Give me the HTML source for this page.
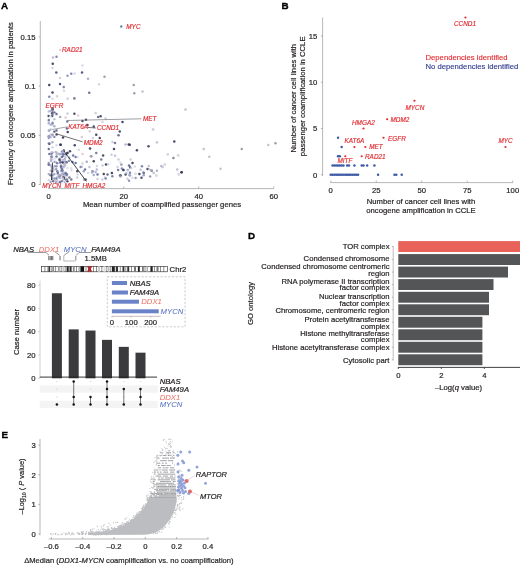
<!DOCTYPE html>
<html><head><meta charset="utf-8"><title>Figure</title>
<style>html,body{margin:0;padding:0;background:#fff}svg{display:block;filter:blur(0.35px);font-family:"Liberation Sans",Arial,sans-serif}</style></head>
<body>
<svg width="520" height="565" viewBox="0 0 520 565">
<rect width="520" height="565" fill="#fff"/>
<text x="1.00" y="9.33" font-size="9.8" font-weight="bold" fill="#000" stroke="#000" stroke-width="0.35">A</text>
<line x1="40.30" y1="21.00" x2="40.30" y2="185.00" stroke="#9a9a9a" stroke-width="0.7"/>
<line x1="38.60" y1="184.50" x2="40.30" y2="184.50" stroke="#9a9a9a" stroke-width="0.7"/>
<text x="35.50" y="187.27" font-size="7.7" text-anchor="end" fill="#231f20" stroke="#231f20" stroke-width="0.2">0</text>
<line x1="38.60" y1="135.30" x2="40.30" y2="135.30" stroke="#9a9a9a" stroke-width="0.7"/>
<text x="35.50" y="138.07" font-size="7.7" text-anchor="end" fill="#231f20" stroke="#231f20" stroke-width="0.2">0.05</text>
<line x1="38.60" y1="86.10" x2="40.30" y2="86.10" stroke="#9a9a9a" stroke-width="0.7"/>
<text x="35.50" y="88.87" font-size="7.7" text-anchor="end" fill="#231f20" stroke="#231f20" stroke-width="0.2">0.1</text>
<line x1="38.60" y1="36.90" x2="40.30" y2="36.90" stroke="#9a9a9a" stroke-width="0.7"/>
<text x="35.50" y="39.67" font-size="7.7" text-anchor="end" fill="#231f20" stroke="#231f20" stroke-width="0.2">0.15</text>
<line x1="48.50" y1="188.60" x2="273.50" y2="188.60" stroke="#9a9a9a" stroke-width="0.7"/>
<line x1="48.75" y1="186.40" x2="48.75" y2="188.60" stroke="#9a9a9a" stroke-width="0.7"/>
<text x="48.75" y="198.77" font-size="7.7" text-anchor="middle" fill="#231f20" stroke="#231f20" stroke-width="0.2">0</text>
<line x1="123.75" y1="186.40" x2="123.75" y2="188.60" stroke="#9a9a9a" stroke-width="0.7"/>
<text x="123.75" y="198.77" font-size="7.7" text-anchor="middle" fill="#231f20" stroke="#231f20" stroke-width="0.2">20</text>
<line x1="198.75" y1="186.40" x2="198.75" y2="188.60" stroke="#9a9a9a" stroke-width="0.7"/>
<text x="198.75" y="198.77" font-size="7.7" text-anchor="middle" fill="#231f20" stroke="#231f20" stroke-width="0.2">40</text>
<line x1="273.75" y1="186.40" x2="273.75" y2="188.60" stroke="#9a9a9a" stroke-width="0.7"/>
<text x="273.75" y="198.77" font-size="7.7" text-anchor="middle" fill="#231f20" stroke="#231f20" stroke-width="0.2">60</text>
<text x="162.00" y="207.27" font-size="7.7" text-anchor="middle" fill="#231f20" stroke="#231f20" stroke-width="0.2">Mean number of coamplified passenger genes</text>
<text transform="translate(10.60,103.50) rotate(-90)" x="0" y="2.77" font-size="7.7" text-anchor="middle" fill="#231f20" stroke="#231f20" stroke-width="0.2">Frequency of oncogene amplification in patients</text>
<circle cx="53.00" cy="57.50" r="1.25" fill="#c7aec1" fill-opacity="0.9"/>
<circle cx="56.50" cy="56.75" r="1.25" fill="#727aa7" fill-opacity="0.9"/>
<circle cx="52.75" cy="63.75" r="1.25" fill="#30325a" fill-opacity="0.9"/>
<circle cx="52.50" cy="68.00" r="1.25" fill="#d2d4e5" fill-opacity="0.9"/>
<circle cx="56.25" cy="72.50" r="1.25" fill="#444973" fill-opacity="0.9"/>
<circle cx="82.50" cy="65.50" r="1.25" fill="#d2d4e5" fill-opacity="0.9"/>
<circle cx="82.00" cy="72.50" r="1.25" fill="#444973" fill-opacity="0.9"/>
<circle cx="71.25" cy="73.75" r="1.25" fill="#727aa7" fill-opacity="0.9"/>
<circle cx="74.50" cy="73.50" r="1.25" fill="#d2d4e5" fill-opacity="0.9"/>
<circle cx="67.50" cy="75.75" r="1.25" fill="#8990b9" fill-opacity="0.9"/>
<circle cx="60.00" cy="78.00" r="1.25" fill="#dac9d3" fill-opacity="0.9"/>
<circle cx="88.00" cy="78.75" r="1.25" fill="#a2a7ca" fill-opacity="0.9"/>
<circle cx="104.50" cy="76.75" r="1.25" fill="#9296a6" fill-opacity="0.9"/>
<circle cx="49.25" cy="85.00" r="1.25" fill="#30325a" fill-opacity="0.9"/>
<circle cx="60.00" cy="84.00" r="1.25" fill="#444973" fill-opacity="0.9"/>
<circle cx="63.75" cy="87.00" r="1.25" fill="#727aa7" fill-opacity="0.9"/>
<circle cx="99.00" cy="84.25" r="1.25" fill="#d2d4e5" fill-opacity="0.9"/>
<circle cx="133.75" cy="85.00" r="1.25" fill="#9296a6" fill-opacity="0.9"/>
<circle cx="52.50" cy="92.50" r="1.25" fill="#30325a" fill-opacity="0.9"/>
<circle cx="64.00" cy="90.75" r="1.25" fill="#d2d4e5" fill-opacity="0.9"/>
<circle cx="89.25" cy="92.75" r="1.25" fill="#5a618d" fill-opacity="0.9"/>
<circle cx="134.25" cy="93.25" r="1.25" fill="#9296a6" fill-opacity="0.9"/>
<circle cx="142.50" cy="91.50" r="1.25" fill="#babcc7" fill-opacity="0.9"/>
<circle cx="49.25" cy="96.75" r="1.25" fill="#727aa7" fill-opacity="0.9"/>
<circle cx="52.50" cy="98.75" r="1.25" fill="#d2d4e5" fill-opacity="0.9"/>
<circle cx="57.00" cy="96.25" r="1.25" fill="#dac9d3" fill-opacity="0.9"/>
<circle cx="67.50" cy="98.75" r="1.25" fill="#d2d4e5" fill-opacity="0.9"/>
<circle cx="74.25" cy="98.25" r="1.25" fill="#727aa7" fill-opacity="0.9"/>
<circle cx="185.50" cy="109.50" r="1.25" fill="#babcc7" fill-opacity="0.9"/>
<circle cx="153.00" cy="129.25" r="1.25" fill="#d2d4e5" fill-opacity="0.9"/>
<circle cx="174.25" cy="141.50" r="1.25" fill="#30325a" fill-opacity="0.9"/>
<circle cx="157.00" cy="142.50" r="1.25" fill="#d2d4e5" fill-opacity="0.9"/>
<circle cx="203.75" cy="149.00" r="1.25" fill="#babcc7" fill-opacity="0.9"/>
<circle cx="241.75" cy="149.00" r="1.25" fill="#9296a6" fill-opacity="0.9"/>
<circle cx="268.25" cy="145.00" r="1.25" fill="#babcc7" fill-opacity="0.9"/>
<circle cx="275.50" cy="143.25" r="1.25" fill="#9296a6" fill-opacity="0.9"/>
<circle cx="209.25" cy="156.75" r="1.25" fill="#babcc7" fill-opacity="0.9"/>
<circle cx="167.75" cy="154.25" r="1.25" fill="#d2d4e5" fill-opacity="0.9"/>
<circle cx="173.25" cy="158.00" r="1.25" fill="#babcc7" fill-opacity="0.9"/>
<circle cx="178.25" cy="155.50" r="1.25" fill="#d2d4e5" fill-opacity="0.9"/>
<circle cx="164.50" cy="164.50" r="1.25" fill="#d2d4e5" fill-opacity="0.9"/>
<circle cx="162.50" cy="167.00" r="1.25" fill="#d2d4e5" fill-opacity="0.9"/>
<circle cx="220.50" cy="168.75" r="1.25" fill="#babcc7" fill-opacity="0.9"/>
<circle cx="177.00" cy="169.50" r="1.25" fill="#d2d4e5" fill-opacity="0.9"/>
<circle cx="181.75" cy="172.25" r="1.25" fill="#30325a" fill-opacity="0.9"/>
<circle cx="178.75" cy="174.25" r="1.25" fill="#d2d4e5" fill-opacity="0.9"/>
<circle cx="151.75" cy="170.75" r="1.25" fill="#727aa7" fill-opacity="0.9"/>
<circle cx="153.75" cy="173.00" r="1.25" fill="#bbbed8" fill-opacity="0.9"/>
<circle cx="156.25" cy="175.50" r="1.25" fill="#d2d4e5" fill-opacity="0.9"/>
<circle cx="67.75" cy="98.75" r="1.25" fill="#d6d7e1" fill-opacity="0.9"/>
<circle cx="74.40" cy="98.50" r="1.25" fill="#8e9099" fill-opacity="0.9"/>
<circle cx="74.40" cy="113.75" r="1.25" fill="#3c3e5a" fill-opacity="0.9"/>
<circle cx="67.50" cy="113.50" r="1.25" fill="#c7c9d6" fill-opacity="0.9"/>
<circle cx="65.60" cy="117.50" r="1.25" fill="#dec7cf" fill-opacity="0.9"/>
<circle cx="78.10" cy="115.60" r="1.25" fill="#dec7cf" fill-opacity="0.9"/>
<circle cx="95.60" cy="112.90" r="1.25" fill="#c7c9d6" fill-opacity="0.9"/>
<circle cx="98.10" cy="116.90" r="1.25" fill="#5b6288" fill-opacity="0.9"/>
<circle cx="100.60" cy="116.25" r="1.25" fill="#3c3e5a" fill-opacity="0.9"/>
<circle cx="105.60" cy="118.50" r="1.25" fill="#c7c9d6" fill-opacity="0.9"/>
<circle cx="86.00" cy="119.75" r="1.25" fill="#313356" fill-opacity="0.9"/>
<circle cx="82.50" cy="121.00" r="1.25" fill="#343649" fill-opacity="0.9"/>
<circle cx="67.25" cy="121.50" r="1.25" fill="#616ca0" fill-opacity="0.9"/>
<circle cx="122.50" cy="121.90" r="1.25" fill="#313356" fill-opacity="0.9"/>
<circle cx="102.50" cy="121.90" r="1.25" fill="#ced0de" fill-opacity="0.9"/>
<circle cx="87.50" cy="125.00" r="1.25" fill="#3c3e5a" fill-opacity="0.9"/>
<circle cx="93.75" cy="126.50" r="1.25" fill="#3c3e5a" fill-opacity="0.9"/>
<circle cx="66.90" cy="128.50" r="1.25" fill="#5b6288" fill-opacity="0.9"/>
<circle cx="67.75" cy="132.10" r="1.25" fill="#313356" fill-opacity="0.9"/>
<circle cx="89.75" cy="131.25" r="1.25" fill="#dec7cf" fill-opacity="0.9"/>
<circle cx="96.25" cy="134.75" r="1.25" fill="#343649" fill-opacity="0.9"/>
<circle cx="119.75" cy="131.50" r="1.25" fill="#3c3e5a" fill-opacity="0.9"/>
<circle cx="118.50" cy="135.25" r="1.25" fill="#5b6288" fill-opacity="0.9"/>
<circle cx="99.75" cy="138.10" r="1.25" fill="#343649" fill-opacity="0.9"/>
<circle cx="93.00" cy="138.00" r="1.25" fill="#ced0de" fill-opacity="0.9"/>
<circle cx="63.00" cy="137.50" r="1.25" fill="#313356" fill-opacity="0.9"/>
<circle cx="81.90" cy="136.90" r="1.25" fill="#c7c9d6" fill-opacity="0.9"/>
<circle cx="115.00" cy="143.00" r="1.25" fill="#6d728d" fill-opacity="0.9"/>
<circle cx="112.50" cy="141.90" r="1.25" fill="#c7c9d6" fill-opacity="0.9"/>
<circle cx="153.10" cy="129.40" r="1.25" fill="#ced0de" fill-opacity="0.9"/>
<circle cx="156.90" cy="142.25" r="1.25" fill="#c7c9d6" fill-opacity="0.9"/>
<circle cx="128.75" cy="144.40" r="1.25" fill="#343649" fill-opacity="0.9"/>
<circle cx="125.60" cy="144.40" r="1.25" fill="#aab0ce" fill-opacity="0.9"/>
<circle cx="60.60" cy="144.75" r="1.25" fill="#313356" fill-opacity="0.9"/>
<circle cx="74.75" cy="145.25" r="1.25" fill="#313356" fill-opacity="0.9"/>
<circle cx="90.00" cy="148.50" r="1.25" fill="#313356" fill-opacity="0.9"/>
<circle cx="114.00" cy="149.00" r="1.25" fill="#343649" fill-opacity="0.9"/>
<circle cx="63.75" cy="150.60" r="1.25" fill="#313356" fill-opacity="0.9"/>
<circle cx="70.00" cy="151.25" r="1.25" fill="#3c3e5a" fill-opacity="0.9"/>
<circle cx="67.75" cy="153.10" r="1.25" fill="#646a88" fill-opacity="0.9"/>
<circle cx="78.75" cy="149.75" r="1.25" fill="#ced0de" fill-opacity="0.9"/>
<circle cx="82.50" cy="154.00" r="1.25" fill="#dec7cf" fill-opacity="0.9"/>
<circle cx="96.25" cy="153.10" r="1.25" fill="#6d728d" fill-opacity="0.9"/>
<circle cx="103.10" cy="155.60" r="1.25" fill="#3c3e5a" fill-opacity="0.9"/>
<circle cx="111.50" cy="154.75" r="1.25" fill="#c7c9d6" fill-opacity="0.9"/>
<circle cx="118.50" cy="159.40" r="1.25" fill="#c7c9d6" fill-opacity="0.9"/>
<circle cx="73.10" cy="155.60" r="1.25" fill="#616ca0" fill-opacity="0.9"/>
<circle cx="75.60" cy="156.90" r="1.25" fill="#616ca0" fill-opacity="0.9"/>
<circle cx="91.25" cy="156.25" r="1.25" fill="#6d728d" fill-opacity="0.9"/>
<circle cx="101.25" cy="159.40" r="1.25" fill="#6d728d" fill-opacity="0.9"/>
<circle cx="93.75" cy="161.25" r="1.25" fill="#343649" fill-opacity="0.9"/>
<circle cx="61.90" cy="156.90" r="1.25" fill="#616ca0" fill-opacity="0.9"/>
<circle cx="65.00" cy="158.75" r="1.25" fill="#aab0ce" fill-opacity="0.9"/>
<circle cx="72.50" cy="161.90" r="1.25" fill="#616ca0" fill-opacity="0.9"/>
<circle cx="75.60" cy="163.10" r="1.25" fill="#5c6697" fill-opacity="0.9"/>
<circle cx="63.10" cy="163.10" r="1.25" fill="#343649" fill-opacity="0.9"/>
<circle cx="82.50" cy="163.50" r="1.25" fill="#ced0de" fill-opacity="0.9"/>
<circle cx="106.00" cy="164.40" r="1.25" fill="#343649" fill-opacity="0.9"/>
<circle cx="96.90" cy="166.00" r="1.25" fill="#ced0de" fill-opacity="0.9"/>
<circle cx="102.50" cy="165.60" r="1.25" fill="#c7c9d6" fill-opacity="0.9"/>
<circle cx="117.50" cy="166.90" r="1.25" fill="#ced0de" fill-opacity="0.9"/>
<circle cx="80.60" cy="166.90" r="1.25" fill="#707aa9" fill-opacity="0.9"/>
<circle cx="85.00" cy="169.40" r="1.25" fill="#5c6697" fill-opacity="0.9"/>
<circle cx="83.75" cy="171.25" r="1.25" fill="#919ac0" fill-opacity="0.9"/>
<circle cx="77.25" cy="171.25" r="1.25" fill="#3c3e5a" fill-opacity="0.9"/>
<circle cx="67.50" cy="168.10" r="1.25" fill="#d6d7e1" fill-opacity="0.9"/>
<circle cx="62.50" cy="170.60" r="1.25" fill="#646a88" fill-opacity="0.9"/>
<circle cx="65.60" cy="173.10" r="1.25" fill="#5c6697" fill-opacity="0.9"/>
<circle cx="61.90" cy="173.75" r="1.25" fill="#aab0ce" fill-opacity="0.9"/>
<circle cx="92.50" cy="171.25" r="1.25" fill="#707aa9" fill-opacity="0.9"/>
<circle cx="95.60" cy="171.90" r="1.25" fill="#aab0ce" fill-opacity="0.9"/>
<circle cx="97.50" cy="174.40" r="1.25" fill="#616ca0" fill-opacity="0.9"/>
<circle cx="93.75" cy="175.00" r="1.25" fill="#9ba3c8" fill-opacity="0.9"/>
<circle cx="103.75" cy="174.00" r="1.25" fill="#343649" fill-opacity="0.9"/>
<circle cx="107.50" cy="174.40" r="1.25" fill="#5b6288" fill-opacity="0.9"/>
<circle cx="111.90" cy="173.10" r="1.25" fill="#313356" fill-opacity="0.9"/>
<circle cx="118.10" cy="170.00" r="1.25" fill="#6d728d" fill-opacity="0.9"/>
<circle cx="123.10" cy="170.00" r="1.25" fill="#707aa9" fill-opacity="0.9"/>
<circle cx="120.00" cy="175.40" r="1.25" fill="#6d728d" fill-opacity="0.9"/>
<circle cx="88.10" cy="173.10" r="1.25" fill="#d6d7e1" fill-opacity="0.9"/>
<circle cx="77.50" cy="174.40" r="1.25" fill="#d6d7e1" fill-opacity="0.9"/>
<circle cx="69.40" cy="177.50" r="1.25" fill="#6d728d" fill-opacity="0.9"/>
<circle cx="71.25" cy="179.40" r="1.25" fill="#646a88" fill-opacity="0.9"/>
<circle cx="85.60" cy="179.40" r="1.25" fill="#3c3e5a" fill-opacity="0.9"/>
<circle cx="97.50" cy="179.00" r="1.25" fill="#c7c9d6" fill-opacity="0.9"/>
<circle cx="105.00" cy="177.50" r="1.25" fill="#ced0de" fill-opacity="0.9"/>
<circle cx="63.50" cy="176.90" r="1.25" fill="#313356" fill-opacity="0.9"/>
<circle cx="61.00" cy="166.90" r="1.25" fill="#5c6697" fill-opacity="0.9"/>
<circle cx="65.00" cy="165.60" r="1.25" fill="#aab0ce" fill-opacity="0.9"/>
<circle cx="129.75" cy="144.75" r="1.25" fill="#313356" fill-opacity="0.9"/>
<circle cx="148.50" cy="146.25" r="1.25" fill="#3c3e5a" fill-opacity="0.9"/>
<circle cx="136.90" cy="150.25" r="1.25" fill="#313356" fill-opacity="0.9"/>
<circle cx="167.75" cy="154.40" r="1.25" fill="#d6d7e1" fill-opacity="0.9"/>
<circle cx="178.10" cy="155.25" r="1.25" fill="#d6d7e1" fill-opacity="0.9"/>
<circle cx="173.50" cy="158.10" r="1.25" fill="#8e9099" fill-opacity="0.9"/>
<circle cx="130.60" cy="159.40" r="1.25" fill="#c7c9d6" fill-opacity="0.9"/>
<circle cx="132.50" cy="163.10" r="1.25" fill="#313356" fill-opacity="0.9"/>
<circle cx="129.00" cy="165.60" r="1.25" fill="#5c6697" fill-opacity="0.9"/>
<circle cx="130.25" cy="167.50" r="1.25" fill="#343649" fill-opacity="0.9"/>
<circle cx="134.75" cy="166.50" r="1.25" fill="#d6d7e1" fill-opacity="0.9"/>
<circle cx="165.00" cy="164.40" r="1.25" fill="#d6d7e1" fill-opacity="0.9"/>
<circle cx="162.50" cy="166.90" r="1.25" fill="#c7c9d6" fill-opacity="0.9"/>
<circle cx="147.50" cy="169.00" r="1.25" fill="#3c3e5a" fill-opacity="0.9"/>
<circle cx="151.50" cy="170.60" r="1.25" fill="#9b9ca4" fill-opacity="0.9"/>
<circle cx="153.75" cy="173.10" r="1.25" fill="#c7c9d6" fill-opacity="0.9"/>
<circle cx="156.50" cy="175.60" r="1.25" fill="#d6d7e1" fill-opacity="0.9"/>
<circle cx="123.50" cy="170.00" r="1.25" fill="#313356" fill-opacity="0.9"/>
<circle cx="127.75" cy="170.00" r="1.25" fill="#9ba3c8" fill-opacity="0.9"/>
<circle cx="130.00" cy="172.75" r="1.25" fill="#707aa9" fill-opacity="0.9"/>
<circle cx="125.60" cy="174.40" r="1.25" fill="#3c3e5a" fill-opacity="0.9"/>
<circle cx="120.60" cy="175.60" r="1.25" fill="#343649" fill-opacity="0.9"/>
<circle cx="130.00" cy="175.60" r="1.25" fill="#919ac0" fill-opacity="0.9"/>
<circle cx="135.60" cy="173.75" r="1.25" fill="#ced0de" fill-opacity="0.9"/>
<circle cx="139.40" cy="174.00" r="1.25" fill="#313356" fill-opacity="0.9"/>
<circle cx="143.75" cy="173.10" r="1.25" fill="#5c6697" fill-opacity="0.9"/>
<circle cx="143.75" cy="175.25" r="1.25" fill="#919ac0" fill-opacity="0.9"/>
<circle cx="141.50" cy="177.75" r="1.25" fill="#3c3e5a" fill-opacity="0.9"/>
<circle cx="135.60" cy="178.10" r="1.25" fill="#919ac0" fill-opacity="0.9"/>
<circle cx="127.50" cy="178.75" r="1.25" fill="#c7c9d6" fill-opacity="0.9"/>
<circle cx="177.25" cy="169.40" r="1.25" fill="#c7c9d6" fill-opacity="0.9"/>
<circle cx="181.50" cy="172.25" r="1.25" fill="#3c3e5a" fill-opacity="0.9"/>
<circle cx="178.75" cy="174.40" r="1.25" fill="#d6d7e1" fill-opacity="0.9"/>
<circle cx="52.60" cy="109.30" r="1.25" fill="#343649" fill-opacity="0.9"/>
<circle cx="52.10" cy="113.20" r="1.25" fill="#3c3e5a" fill-opacity="0.9"/>
<circle cx="52.10" cy="116.00" r="1.25" fill="#343649" fill-opacity="0.9"/>
<circle cx="48.60" cy="116.00" r="1.25" fill="#3c3e5a" fill-opacity="0.9"/>
<circle cx="56.50" cy="113.90" r="1.25" fill="#5b6288" fill-opacity="0.9"/>
<circle cx="60.20" cy="116.90" r="1.25" fill="#9b9ca4" fill-opacity="0.9"/>
<circle cx="52.60" cy="122.00" r="1.25" fill="#d6d7e1" fill-opacity="0.9"/>
<circle cx="52.60" cy="125.00" r="1.25" fill="#ced0de" fill-opacity="0.9"/>
<circle cx="49.30" cy="130.40" r="1.25" fill="#919ac0" fill-opacity="0.9"/>
<circle cx="56.50" cy="130.40" r="1.25" fill="#5b6288" fill-opacity="0.9"/>
<circle cx="56.50" cy="134.60" r="1.25" fill="#3c3e5a" fill-opacity="0.9"/>
<circle cx="49.30" cy="143.80" r="1.25" fill="#313356" fill-opacity="0.9"/>
<circle cx="52.10" cy="142.60" r="1.25" fill="#ced0de" fill-opacity="0.9"/>
<circle cx="56.50" cy="145.20" r="1.25" fill="#d6d7e1" fill-opacity="0.9"/>
<circle cx="60.50" cy="144.70" r="1.25" fill="#313356" fill-opacity="0.9"/>
<circle cx="49.30" cy="154.00" r="1.25" fill="#6d728d" fill-opacity="0.9"/>
<circle cx="52.10" cy="152.20" r="1.25" fill="#ced0de" fill-opacity="0.9"/>
<circle cx="56.50" cy="152.20" r="1.25" fill="#d6d7e1" fill-opacity="0.9"/>
<circle cx="56.50" cy="156.40" r="1.25" fill="#646a88" fill-opacity="0.9"/>
<circle cx="52.50" cy="175.60" r="1.2" fill="#8990b9" fill-opacity="0.9"/>
<circle cx="50.62" cy="116.35" r="1.2" fill="#d2d4e5" fill-opacity="0.9"/>
<circle cx="50.62" cy="129.42" r="1.2" fill="#babcc7" fill-opacity="0.9"/>
<circle cx="52.50" cy="110.87" r="1.2" fill="#5a618d" fill-opacity="0.7"/>
<circle cx="48.75" cy="164.43" r="1.2" fill="#727aa7" fill-opacity="0.8"/>
<circle cx="52.50" cy="168.09" r="1.2" fill="#727aa7" fill-opacity="0.7"/>
<circle cx="52.50" cy="142.10" r="1.2" fill="#a2a7ca" fill-opacity="0.8"/>
<circle cx="48.75" cy="130.59" r="1.2" fill="#a2a7ca" fill-opacity="0.9"/>
<circle cx="54.38" cy="131.64" r="1.2" fill="#444973" fill-opacity="0.9"/>
<circle cx="52.50" cy="152.59" r="1.2" fill="#8990b9" fill-opacity="0.7"/>
<circle cx="52.50" cy="134.74" r="1.2" fill="#444973" fill-opacity="0.7"/>
<circle cx="48.75" cy="149.03" r="1.2" fill="#5a618d" fill-opacity="0.9"/>
<circle cx="48.75" cy="173.99" r="1.2" fill="#a2a7ca" fill-opacity="0.9"/>
<circle cx="48.75" cy="111.52" r="1.2" fill="#a2a7ca" fill-opacity="0.7"/>
<circle cx="48.75" cy="136.23" r="1.2" fill="#5a618d" fill-opacity="0.8"/>
<circle cx="50.62" cy="137.10" r="1.2" fill="#8990b9" fill-opacity="0.7"/>
<circle cx="52.50" cy="108.26" r="1.2" fill="#8990b9" fill-opacity="0.8"/>
<circle cx="50.62" cy="175.21" r="1.2" fill="#444973" fill-opacity="0.8"/>
<circle cx="54.38" cy="162.01" r="1.2" fill="#d2d4e5" fill-opacity="0.7"/>
<circle cx="52.50" cy="179.84" r="1.2" fill="#babcc7" fill-opacity="0.9"/>
<circle cx="50.62" cy="170.73" r="1.2" fill="#a2a7ca" fill-opacity="0.7"/>
<circle cx="52.50" cy="159.55" r="1.2" fill="#bbbed8" fill-opacity="0.7"/>
<circle cx="54.38" cy="119.15" r="1.2" fill="#a2a7ca" fill-opacity="0.7"/>
<circle cx="50.62" cy="124.58" r="1.2" fill="#a2a7ca" fill-opacity="0.9"/>
<circle cx="50.62" cy="134.58" r="1.2" fill="#a2a7ca" fill-opacity="0.7"/>
<circle cx="48.75" cy="121.16" r="1.2" fill="#bbbed8" fill-opacity="0.7"/>
<circle cx="48.75" cy="143.35" r="1.2" fill="#727aa7" fill-opacity="0.7"/>
<circle cx="48.75" cy="123.24" r="1.2" fill="#8990b9" fill-opacity="0.7"/>
<circle cx="54.38" cy="136.89" r="1.2" fill="#727aa7" fill-opacity="0.9"/>
<circle cx="50.62" cy="111.07" r="1.2" fill="#8990b9" fill-opacity="0.7"/>
<circle cx="48.75" cy="164.81" r="1.2" fill="#5a618d" fill-opacity="0.7"/>
<circle cx="52.50" cy="135.49" r="1.2" fill="#c7aec1" fill-opacity="0.7"/>
<circle cx="52.50" cy="114.45" r="1.2" fill="#727aa7" fill-opacity="0.9"/>
<circle cx="48.75" cy="119.95" r="1.2" fill="#5a618d" fill-opacity="0.8"/>
<circle cx="54.38" cy="126.19" r="1.2" fill="#8990b9" fill-opacity="0.7"/>
<circle cx="52.50" cy="123.31" r="1.2" fill="#727aa7" fill-opacity="0.9"/>
<circle cx="52.50" cy="147.37" r="1.2" fill="#bbbed8" fill-opacity="0.7"/>
<circle cx="54.38" cy="169.82" r="1.2" fill="#babcc7" fill-opacity="0.7"/>
<circle cx="48.75" cy="137.95" r="1.2" fill="#8990b9" fill-opacity="0.9"/>
<circle cx="48.75" cy="136.41" r="1.2" fill="#a2a7ca" fill-opacity="0.8"/>
<circle cx="54.38" cy="112.36" r="1.2" fill="#5a618d" fill-opacity="0.9"/>
<circle cx="48.75" cy="179.97" r="1.2" fill="#d2d4e5" fill-opacity="0.9"/>
<circle cx="54.38" cy="173.96" r="1.2" fill="#d2d4e5" fill-opacity="0.7"/>
<circle cx="52.50" cy="108.74" r="1.2" fill="#5a618d" fill-opacity="0.7"/>
<circle cx="48.75" cy="162.96" r="1.2" fill="#727aa7" fill-opacity="0.7"/>
<circle cx="63.33" cy="172.27" r="1.2" fill="#a2a7ca" fill-opacity="0.7"/>
<circle cx="50.95" cy="159.23" r="1.2" fill="#c7aec1" fill-opacity="0.9"/>
<circle cx="60.16" cy="154.06" r="1.2" fill="#8990b9" fill-opacity="0.9"/>
<circle cx="52.18" cy="177.75" r="1.2" fill="#a2a7ca" fill-opacity="0.8"/>
<circle cx="63.56" cy="163.37" r="1.2" fill="#d2d4e5" fill-opacity="0.7"/>
<circle cx="52.91" cy="167.62" r="1.2" fill="#bbbed8" fill-opacity="0.9"/>
<circle cx="50.96" cy="161.05" r="1.2" fill="#a2a7ca" fill-opacity="0.8"/>
<circle cx="63.70" cy="179.19" r="1.2" fill="#a2a7ca" fill-opacity="0.7"/>
<circle cx="53.25" cy="181.20" r="1.2" fill="#444973" fill-opacity="0.8"/>
<circle cx="59.78" cy="158.60" r="1.2" fill="#9296a6" fill-opacity="0.8"/>
<circle cx="55.61" cy="151.88" r="1.2" fill="#a2a7ca" fill-opacity="0.7"/>
<circle cx="62.08" cy="168.29" r="1.2" fill="#a2a7ca" fill-opacity="0.8"/>
<circle cx="58.82" cy="174.73" r="1.2" fill="#a2a7ca" fill-opacity="0.8"/>
<circle cx="66.14" cy="154.42" r="1.2" fill="#5a618d" fill-opacity="0.8"/>
<circle cx="52.29" cy="178.70" r="1.2" fill="#8990b9" fill-opacity="0.7"/>
<circle cx="61.70" cy="169.04" r="1.2" fill="#5a618d" fill-opacity="0.8"/>
<circle cx="63.69" cy="154.29" r="1.2" fill="#5a618d" fill-opacity="0.9"/>
<circle cx="61.22" cy="171.00" r="1.2" fill="#727aa7" fill-opacity="0.7"/>
<circle cx="66.93" cy="175.62" r="1.2" fill="#babcc7" fill-opacity="0.8"/>
<circle cx="65.47" cy="177.41" r="1.2" fill="#bbbed8" fill-opacity="0.7"/>
<circle cx="52.72" cy="168.94" r="1.2" fill="#a2a7ca" fill-opacity="0.8"/>
<circle cx="57.30" cy="171.30" r="1.2" fill="#444973" fill-opacity="0.8"/>
<circle cx="50.22" cy="165.09" r="1.2" fill="#8990b9" fill-opacity="0.7"/>
<circle cx="56.65" cy="166.24" r="1.2" fill="#727aa7" fill-opacity="0.7"/>
<circle cx="51.86" cy="153.61" r="1.2" fill="#727aa7" fill-opacity="0.7"/>
<circle cx="51.36" cy="173.97" r="1.2" fill="#c7aec1" fill-opacity="0.7"/>
<circle cx="54.64" cy="178.45" r="1.2" fill="#8990b9" fill-opacity="0.9"/>
<circle cx="64.31" cy="174.39" r="1.2" fill="#5a618d" fill-opacity="0.9"/>
<circle cx="59.93" cy="160.48" r="1.2" fill="#444973" fill-opacity="0.7"/>
<circle cx="63.97" cy="176.76" r="1.2" fill="#c7aec1" fill-opacity="0.8"/>
<circle cx="66.41" cy="162.55" r="1.2" fill="#d2d4e5" fill-opacity="0.7"/>
<circle cx="60.59" cy="175.53" r="1.2" fill="#727aa7" fill-opacity="0.7"/>
<circle cx="57.87" cy="171.85" r="1.2" fill="#a2a7ca" fill-opacity="0.8"/>
<circle cx="60.83" cy="181.17" r="1.2" fill="#bbbed8" fill-opacity="0.7"/>
<circle cx="66.96" cy="174.29" r="1.2" fill="#5a618d" fill-opacity="0.8"/>
<circle cx="60.96" cy="165.81" r="1.2" fill="#5a618d" fill-opacity="0.8"/>
<circle cx="58.69" cy="176.93" r="1.2" fill="#727aa7" fill-opacity="0.7"/>
<circle cx="67.40" cy="181.37" r="1.2" fill="#30325a" fill-opacity="0.9"/>
<circle cx="59.59" cy="176.57" r="1.2" fill="#8990b9" fill-opacity="0.8"/>
<circle cx="51.75" cy="156.75" r="1.2" fill="#8990b9" fill-opacity="0.8"/>
<circle cx="59.50" cy="154.55" r="1.2" fill="#babcc7" fill-opacity="0.8"/>
<circle cx="62.00" cy="151.60" r="1.2" fill="#727aa7" fill-opacity="0.9"/>
<circle cx="62.72" cy="178.13" r="1.2" fill="#babcc7" fill-opacity="0.7"/>
<circle cx="64.63" cy="182.08" r="1.2" fill="#a2a7ca" fill-opacity="0.8"/>
<circle cx="57.47" cy="180.79" r="1.2" fill="#bbbed8" fill-opacity="0.8"/>
<circle cx="65.22" cy="161.42" r="1.2" fill="#727aa7" fill-opacity="0.7"/>
<circle cx="62.08" cy="181.11" r="1.2" fill="#5a618d" fill-opacity="0.8"/>
<circle cx="57.73" cy="174.24" r="1.2" fill="#babcc7" fill-opacity="0.9"/>
<circle cx="55.58" cy="181.45" r="1.2" fill="#c7aec1" fill-opacity="0.7"/>
<circle cx="56.16" cy="182.50" r="1.2" fill="#8990b9" fill-opacity="0.8"/>
<circle cx="54.79" cy="161.88" r="1.2" fill="#727aa7" fill-opacity="0.7"/>
<circle cx="51.48" cy="156.80" r="1.2" fill="#5a618d" fill-opacity="0.9"/>
<circle cx="50.61" cy="181.82" r="1.2" fill="#727aa7" fill-opacity="0.7"/>
<circle cx="51.36" cy="152.38" r="1.2" fill="#dac9d3" fill-opacity="0.7"/>
<circle cx="61.46" cy="159.99" r="1.2" fill="#dac9d3" fill-opacity="0.8"/>
<circle cx="63.35" cy="159.84" r="1.2" fill="#a2a7ca" fill-opacity="0.8"/>
<circle cx="62.64" cy="162.28" r="1.2" fill="#444973" fill-opacity="0.9"/>
<circle cx="65.60" cy="162.78" r="1.2" fill="#bbbed8" fill-opacity="0.9"/>
<circle cx="52.33" cy="166.04" r="1.2" fill="#a2a7ca" fill-opacity="0.7"/>
<circle cx="64.44" cy="164.14" r="1.2" fill="#c7aec1" fill-opacity="0.9"/>
<circle cx="66.73" cy="162.29" r="1.2" fill="#444973" fill-opacity="0.7"/>
<circle cx="52.22" cy="171.17" r="1.2" fill="#444973" fill-opacity="0.8"/>
<circle cx="59.72" cy="162.76" r="1.2" fill="#a2a7ca" fill-opacity="0.9"/>
<circle cx="54.19" cy="174.23" r="1.2" fill="#8990b9" fill-opacity="0.7"/>
<circle cx="63.06" cy="166.69" r="1.2" fill="#a2a7ca" fill-opacity="0.9"/>
<circle cx="59.15" cy="159.05" r="1.2" fill="#8990b9" fill-opacity="0.7"/>
<circle cx="64.79" cy="175.14" r="1.2" fill="#d2d4e5" fill-opacity="0.7"/>
<circle cx="62.91" cy="151.81" r="1.2" fill="#a2a7ca" fill-opacity="0.8"/>
<circle cx="51.23" cy="153.86" r="1.2" fill="#727aa7" fill-opacity="0.7"/>
<circle cx="60.75" cy="162.29" r="1.2" fill="#444973" fill-opacity="0.7"/>
<circle cx="55.72" cy="162.02" r="1.2" fill="#bbbed8" fill-opacity="0.9"/>
<circle cx="59.88" cy="182.14" r="1.2" fill="#444973" fill-opacity="0.8"/>
<circle cx="67.02" cy="179.40" r="1.2" fill="#5a618d" fill-opacity="0.8"/>
<circle cx="55.00" cy="166.27" r="1.2" fill="#8990b9" fill-opacity="0.8"/>
<circle cx="63.40" cy="151.25" r="1.2" fill="#a2a7ca" fill-opacity="0.8"/>
<circle cx="67.11" cy="153.05" r="1.2" fill="#30325a" fill-opacity="0.8"/>
<circle cx="51.22" cy="166.58" r="1.2" fill="#babcc7" fill-opacity="0.8"/>
<circle cx="56.69" cy="153.67" r="1.2" fill="#9296a6" fill-opacity="0.7"/>
<circle cx="60.12" cy="178.07" r="1.2" fill="#a2a7ca" fill-opacity="0.8"/>
<circle cx="52.21" cy="156.71" r="1.2" fill="#a2a7ca" fill-opacity="0.7"/>
<circle cx="62.27" cy="175.25" r="1.2" fill="#c7aec1" fill-opacity="0.8"/>
<circle cx="56.82" cy="177.52" r="1.2" fill="#babcc7" fill-opacity="0.9"/>
<circle cx="57.82" cy="173.02" r="1.2" fill="#5a618d" fill-opacity="0.8"/>
<circle cx="56.50" cy="178.72" r="1.2" fill="#727aa7" fill-opacity="0.8"/>
<circle cx="63.11" cy="156.11" r="1.2" fill="#5a618d" fill-opacity="0.7"/>
<circle cx="62.44" cy="154.14" r="1.2" fill="#727aa7" fill-opacity="0.8"/>
<circle cx="51.02" cy="170.25" r="1.2" fill="#dac9d3" fill-opacity="0.7"/>
<circle cx="56.23" cy="169.05" r="1.2" fill="#727aa7" fill-opacity="0.7"/>
<circle cx="54.82" cy="180.91" r="1.2" fill="#bbbed8" fill-opacity="0.9"/>
<circle cx="66.36" cy="174.68" r="1.2" fill="#727aa7" fill-opacity="0.9"/>
<circle cx="55.44" cy="158.19" r="1.2" fill="#d2d4e5" fill-opacity="0.8"/>
<circle cx="65.46" cy="156.96" r="1.2" fill="#bbbed8" fill-opacity="0.9"/>
<circle cx="59.56" cy="159.87" r="1.2" fill="#444973" fill-opacity="0.9"/>
<circle cx="57.12" cy="163.17" r="1.2" fill="#5a618d" fill-opacity="0.8"/>
<circle cx="58.43" cy="153.82" r="1.2" fill="#a2a7ca" fill-opacity="0.7"/>
<circle cx="92.08" cy="172.42" r="1.2" fill="#a2a7ca" fill-opacity="0.9"/>
<circle cx="108.07" cy="164.20" r="1.2" fill="#bbbed8" fill-opacity="0.7"/>
<circle cx="81.80" cy="166.74" r="1.2" fill="#a2a7ca" fill-opacity="0.7"/>
<circle cx="102.34" cy="179.55" r="1.2" fill="#bbbed8" fill-opacity="0.8"/>
<circle cx="96.77" cy="169.51" r="1.2" fill="#a2a7ca" fill-opacity="0.8"/>
<circle cx="89.40" cy="166.99" r="1.2" fill="#a2a7ca" fill-opacity="0.7"/>
<circle cx="84.27" cy="179.13" r="1.2" fill="#a2a7ca" fill-opacity="0.8"/>
<circle cx="112.31" cy="176.18" r="1.2" fill="#5a618d" fill-opacity="0.8"/>
<circle cx="86.72" cy="161.73" r="1.2" fill="#8990b9" fill-opacity="0.8"/>
<circle cx="84.04" cy="179.90" r="1.2" fill="#a2a7ca" fill-opacity="0.8"/>
<circle cx="71.30" cy="168.17" r="1.2" fill="#d2d4e5" fill-opacity="0.7"/>
<circle cx="69.31" cy="157.72" r="1.2" fill="#a2a7ca" fill-opacity="0.9"/>
<circle cx="90.50" cy="156.20" r="1.2" fill="#c7aec1" fill-opacity="0.7"/>
<circle cx="71.38" cy="170.25" r="1.2" fill="#d2d4e5" fill-opacity="0.8"/>
<circle cx="121.85" cy="168.53" r="1.2" fill="#727aa7" fill-opacity="0.9"/>
<circle cx="115.08" cy="155.72" r="1.2" fill="#a2a7ca" fill-opacity="0.7"/>
<circle cx="77.18" cy="177.51" r="1.2" fill="#babcc7" fill-opacity="0.7"/>
<circle cx="120.24" cy="162.37" r="1.2" fill="#d2d4e5" fill-opacity="0.8"/>
<circle cx="68.85" cy="160.91" r="1.2" fill="#5a618d" fill-opacity="0.7"/>
<circle cx="77.70" cy="157.11" r="1.2" fill="#d2d4e5" fill-opacity="0.8"/>
<circle cx="121.50" cy="164.90" r="1.2" fill="#bbbed8" fill-opacity="0.8"/>
<circle cx="105.66" cy="178.57" r="1.2" fill="#727aa7" fill-opacity="0.9"/>
<circle cx="120.36" cy="176.45" r="1.2" fill="#a2a7ca" fill-opacity="0.9"/>
<circle cx="63.82" cy="167.27" r="1.2" fill="#babcc7" fill-opacity="0.8"/>
<circle cx="121.29" cy="164.42" r="1.2" fill="#9296a6" fill-opacity="0.8"/>
<circle cx="143.49" cy="172.40" r="1.2" fill="#727aa7" fill-opacity="0.8"/>
<circle cx="150.17" cy="176.41" r="1.2" fill="#727aa7" fill-opacity="0.8"/>
<circle cx="156.93" cy="170.72" r="1.2" fill="#8990b9" fill-opacity="0.7"/>
<circle cx="148.78" cy="166.07" r="1.2" fill="#a2a7ca" fill-opacity="0.7"/>
<circle cx="149.84" cy="169.53" r="1.2" fill="#bbbed8" fill-opacity="0.8"/>
<circle cx="131.18" cy="168.21" r="1.2" fill="#d2d4e5" fill-opacity="0.9"/>
<circle cx="126.28" cy="173.26" r="1.2" fill="#a2a7ca" fill-opacity="0.7"/>
<circle cx="132.41" cy="177.84" r="1.2" fill="#dac9d3" fill-opacity="0.8"/>
<circle cx="127.84" cy="171.12" r="1.2" fill="#d2d4e5" fill-opacity="0.7"/>
<circle cx="141.94" cy="166.32" r="1.2" fill="#727aa7" fill-opacity="0.9"/>
<circle cx="129.24" cy="174.97" r="1.2" fill="#a2a7ca" fill-opacity="0.9"/>
<circle cx="129.07" cy="180.68" r="1.2" fill="#727aa7" fill-opacity="0.8"/>
<circle cx="140.61" cy="169.64" r="1.2" fill="#a2a7ca" fill-opacity="0.7"/>
<circle cx="161.16" cy="165.96" r="1.2" fill="#a2a7ca" fill-opacity="0.7"/>
<circle cx="121.25" cy="26.50" r="1.2" fill="#5f86b4"/>
<text x="126.30" y="28.80" font-size="6.4" font-style="italic" fill="#e0282e" stroke="#e0282e" stroke-width="0.15">MYC</text>
<circle cx="60.00" cy="50.00" r="1.0" fill="#f0b9c0"/>
<text x="62.00" y="52.30" font-size="6.4" font-style="italic" fill="#e0282e" stroke="#e0282e" stroke-width="0.15">RAD21</text>
<text x="45.50" y="107.80" font-size="6.4" font-style="italic" fill="#e0282e" stroke="#e0282e" stroke-width="0.15">EGFR</text>
<line x1="67.00" y1="120.50" x2="141.30" y2="118.80" stroke="#71767c" stroke-width="0.7"/>
<text x="143.00" y="121.10" font-size="6.4" font-style="italic" fill="#e0282e" stroke="#e0282e" stroke-width="0.15">MET</text>
<line x1="52.00" y1="129.50" x2="67.50" y2="126.80" stroke="#7d8288" stroke-width="0.7"/>
<text x="68.30" y="128.60" font-size="6.4" font-style="italic" fill="#e0282e" stroke="#e0282e" stroke-width="0.15">KAT6A</text>
<line x1="87.50" y1="127.40" x2="95.80" y2="128.00" stroke="#333" stroke-width="0.7"/>
<text x="97.00" y="130.30" font-size="6.4" font-style="italic" fill="#e0282e" stroke="#e0282e" stroke-width="0.15">CCND1</text>
<line x1="56.30" y1="133.80" x2="82.50" y2="141.80" stroke="#333" stroke-width="0.7"/>
<text x="83.80" y="144.80" font-size="6.4" font-style="italic" fill="#e0282e" stroke="#e0282e" stroke-width="0.15">MDM2</text>
<line x1="52.50" y1="162.50" x2="51.50" y2="180.00" stroke="#111" stroke-width="0.8"/>
<text x="42.30" y="187.50" font-size="6.4" font-style="italic" fill="#e0282e" stroke="#e0282e" stroke-width="0.15">MYCN</text>
<line x1="63.75" y1="176.30" x2="65.50" y2="180.50" stroke="#111" stroke-width="0.8"/>
<text x="64.50" y="187.50" font-size="6.4" font-style="italic" fill="#e0282e" stroke="#e0282e" stroke-width="0.15">MITF</text>
<line x1="63.75" y1="150.80" x2="86.30" y2="181.30" stroke="#111" stroke-width="0.8"/>
<text x="82.50" y="187.50" font-size="6.4" font-style="italic" fill="#e0282e" stroke="#e0282e" stroke-width="0.15">HMGA2</text>
<text x="281.50" y="9.33" font-size="9.8" font-weight="bold" fill="#000" stroke="#000" stroke-width="0.35">B</text>
<line x1="322.60" y1="17.50" x2="322.60" y2="176.00" stroke="#9a9a9a" stroke-width="0.7"/>
<line x1="320.90" y1="174.75" x2="322.60" y2="174.75" stroke="#9a9a9a" stroke-width="0.7"/>
<text x="317.20" y="177.52" font-size="7.7" text-anchor="end" fill="#231f20" stroke="#231f20" stroke-width="0.2">0</text>
<line x1="320.90" y1="128.50" x2="322.60" y2="128.50" stroke="#9a9a9a" stroke-width="0.7"/>
<text x="317.20" y="131.27" font-size="7.7" text-anchor="end" fill="#231f20" stroke="#231f20" stroke-width="0.2">5</text>
<line x1="320.90" y1="82.25" x2="322.60" y2="82.25" stroke="#9a9a9a" stroke-width="0.7"/>
<text x="317.20" y="85.02" font-size="7.7" text-anchor="end" fill="#231f20" stroke="#231f20" stroke-width="0.2">10</text>
<line x1="320.90" y1="36.00" x2="322.60" y2="36.00" stroke="#9a9a9a" stroke-width="0.7"/>
<text x="317.20" y="38.77" font-size="7.7" text-anchor="end" fill="#231f20" stroke="#231f20" stroke-width="0.2">15</text>
<line x1="330.50" y1="182.60" x2="513.00" y2="182.60" stroke="#9a9a9a" stroke-width="0.7"/>
<line x1="330.75" y1="180.50" x2="330.75" y2="182.60" stroke="#9a9a9a" stroke-width="0.7"/>
<text x="330.75" y="193.27" font-size="7.7" text-anchor="middle" fill="#231f20" stroke="#231f20" stroke-width="0.2">0</text>
<line x1="376.25" y1="180.50" x2="376.25" y2="182.60" stroke="#9a9a9a" stroke-width="0.7"/>
<text x="376.25" y="193.27" font-size="7.7" text-anchor="middle" fill="#231f20" stroke="#231f20" stroke-width="0.2">25</text>
<line x1="421.75" y1="180.50" x2="421.75" y2="182.60" stroke="#9a9a9a" stroke-width="0.7"/>
<text x="421.75" y="193.27" font-size="7.7" text-anchor="middle" fill="#231f20" stroke="#231f20" stroke-width="0.2">50</text>
<line x1="467.25" y1="180.50" x2="467.25" y2="182.60" stroke="#9a9a9a" stroke-width="0.7"/>
<text x="467.25" y="193.27" font-size="7.7" text-anchor="middle" fill="#231f20" stroke="#231f20" stroke-width="0.2">75</text>
<line x1="512.75" y1="180.50" x2="512.75" y2="182.60" stroke="#9a9a9a" stroke-width="0.7"/>
<text x="512.75" y="193.27" font-size="7.7" text-anchor="middle" fill="#231f20" stroke="#231f20" stroke-width="0.2">100</text>
<text x="421.00" y="203.77" font-size="7.7" text-anchor="middle" fill="#231f20" stroke="#231f20" stroke-width="0.2">Number of cancer cell lines with</text>
<text x="421.00" y="212.77" font-size="7.7" text-anchor="middle" fill="#231f20" stroke="#231f20" stroke-width="0.2">oncogene amplification in CCLE</text>
<text transform="translate(293.60,98.20) rotate(-90)" x="0" y="2.77" font-size="7.7" text-anchor="middle" fill="#231f20" stroke="#231f20" stroke-width="0.2">Number of cancer cell lines with</text>
<text transform="translate(302.50,96.30) rotate(-90)" x="0" y="2.77" font-size="7.7" text-anchor="middle" fill="#231f20" stroke="#231f20" stroke-width="0.2">passenger coamplification in CCLE</text>
<text x="425.50" y="59.77" font-size="7.7" fill="#e0282e" stroke="#e0282e" stroke-width="0.12">Dependencies identified</text>
<text x="425.50" y="68.57" font-size="7.7" fill="#2e3a8c" stroke="#2e3a8c" stroke-width="0.12">No dependencies identified</text>
<circle cx="330.75" cy="174.75" r="1.3" fill="#3c5aa6"/>
<circle cx="332.57" cy="174.75" r="1.3" fill="#3c5aa6"/>
<circle cx="334.39" cy="174.75" r="1.3" fill="#3c5aa6"/>
<circle cx="336.21" cy="174.75" r="1.3" fill="#3c5aa6"/>
<circle cx="338.03" cy="174.75" r="1.3" fill="#3c5aa6"/>
<circle cx="339.85" cy="174.75" r="1.3" fill="#3c5aa6"/>
<circle cx="341.67" cy="174.75" r="1.3" fill="#3c5aa6"/>
<circle cx="343.49" cy="174.75" r="1.3" fill="#3c5aa6"/>
<circle cx="345.31" cy="174.75" r="1.3" fill="#3c5aa6"/>
<circle cx="347.13" cy="174.75" r="1.3" fill="#3c5aa6"/>
<circle cx="348.95" cy="174.75" r="1.3" fill="#3c5aa6"/>
<circle cx="350.77" cy="174.75" r="1.3" fill="#3c5aa6"/>
<circle cx="352.59" cy="174.75" r="1.3" fill="#3c5aa6"/>
<circle cx="354.41" cy="174.75" r="1.3" fill="#3c5aa6"/>
<circle cx="356.23" cy="174.75" r="1.3" fill="#3c5aa6"/>
<circle cx="358.05" cy="174.75" r="1.3" fill="#3c5aa6"/>
<circle cx="378.07" cy="174.75" r="1.25" fill="#3c5aa6"/>
<circle cx="394.45" cy="174.75" r="1.25" fill="#3c5aa6"/>
<circle cx="396.27" cy="174.75" r="1.25" fill="#3c5aa6"/>
<circle cx="401.73" cy="174.75" r="1.25" fill="#3c5aa6"/>
<circle cx="332.57" cy="165.50" r="1.25" fill="#3c5aa6"/>
<circle cx="334.39" cy="165.50" r="1.25" fill="#3c5aa6"/>
<circle cx="336.21" cy="165.50" r="1.25" fill="#3c5aa6"/>
<circle cx="338.03" cy="165.50" r="1.25" fill="#3c5aa6"/>
<circle cx="339.85" cy="165.50" r="1.25" fill="#3c5aa6"/>
<circle cx="341.67" cy="165.50" r="1.25" fill="#3c5aa6"/>
<circle cx="343.49" cy="165.50" r="1.25" fill="#3c5aa6"/>
<circle cx="347.13" cy="165.50" r="1.25" fill="#3c5aa6"/>
<circle cx="348.95" cy="165.50" r="1.25" fill="#3c5aa6"/>
<circle cx="354.41" cy="165.50" r="1.25" fill="#3c5aa6"/>
<circle cx="361.69" cy="165.50" r="1.25" fill="#3c5aa6"/>
<circle cx="363.51" cy="165.50" r="1.25" fill="#3c5aa6"/>
<circle cx="367.15" cy="165.50" r="1.25" fill="#3c5aa6"/>
<circle cx="374.43" cy="165.50" r="1.25" fill="#3c5aa6"/>
<circle cx="338.03" cy="156.25" r="1.2" fill="#3c5aa6"/>
<circle cx="339.85" cy="156.25" r="1.2" fill="#3c5aa6"/>
<circle cx="341.67" cy="147.00" r="1.2" fill="#3c5aa6"/>
<circle cx="338.03" cy="137.75" r="1.2" fill="#3c5aa6"/>
<circle cx="465.43" cy="17.50" r="1.1" fill="#e0282e"/>
<text x="454.00" y="26.30" font-size="6.4" font-style="italic" fill="#e0282e" stroke="#e0282e" stroke-width="0.15">CCND1</text>
<circle cx="414.47" cy="100.75" r="1.1" fill="#e0282e"/>
<text x="405.50" y="109.80" font-size="6.4" font-style="italic" fill="#e0282e" stroke="#e0282e" stroke-width="0.15">MYCN</text>
<circle cx="387.17" cy="119.25" r="1.1" fill="#e0282e"/>
<text x="390.50" y="121.80" font-size="6.4" font-style="italic" fill="#e0282e" stroke="#e0282e" stroke-width="0.15">MDM2</text>
<circle cx="363.51" cy="128.50" r="1.1" fill="#e0282e"/>
<text x="352.00" y="125.30" font-size="6.4" font-style="italic" fill="#e0282e" stroke="#e0282e" stroke-width="0.15">HMGA2</text>
<circle cx="383.53" cy="137.75" r="1.1" fill="#e0282e"/>
<text x="388.00" y="141.00" font-size="6.4" font-style="italic" fill="#e0282e" stroke="#e0282e" stroke-width="0.15">EGFR</text>
<circle cx="354.41" cy="147.00" r="1.1" fill="#e0282e"/>
<text x="344.50" y="142.80" font-size="6.4" font-style="italic" fill="#e0282e" stroke="#e0282e" stroke-width="0.15">KAT6A</text>
<circle cx="365.33" cy="147.00" r="1.1" fill="#e0282e"/>
<text x="369.20" y="149.30" font-size="6.4" font-style="italic" fill="#e0282e" stroke="#e0282e" stroke-width="0.15">MET</text>
<circle cx="361.69" cy="156.25" r="1.1" fill="#e0282e"/>
<text x="365.00" y="158.80" font-size="6.4" font-style="italic" fill="#e0282e" stroke="#e0282e" stroke-width="0.15">RAD21</text>
<circle cx="345.31" cy="156.25" r="1.1" fill="#e0282e"/>
<text x="337.50" y="163.30" font-size="6.4" font-style="italic" fill="#e0282e" stroke="#e0282e" stroke-width="0.15">MITF</text>
<circle cx="505.47" cy="147.00" r="1.1" fill="#e0282e"/>
<text x="498.40" y="142.60" font-size="6.4" font-style="italic" fill="#e0282e" stroke="#e0282e" stroke-width="0.15">MYC</text>
<text x="1.50" y="238.83" font-size="9.8" font-weight="bold" fill="#000" stroke="#000" stroke-width="0.35">C</text>
<text x="13.20" y="252.07" font-size="7.7" font-style="italic" fill="#231f20" stroke="#231f20" stroke-width="0.2">NBAS</text>
<text x="38.80" y="252.07" font-size="7.7" font-style="italic" fill="#eb736b" stroke="#eb736b" stroke-width="0.05">DDX1</text>
<text x="63.80" y="252.07" font-size="7.7" font-style="italic" fill="#5873c2" stroke="#5873c2" stroke-width="0.05">MYCN</text>
<text x="91.20" y="252.07" font-size="7.7" font-style="italic" fill="#231f20" stroke="#231f20" stroke-width="0.2">FAM49A</text>
<polyline points="27.5,252.5 46,252.5 49,255.3" fill="none" stroke="#55565a" stroke-width="0.6"/>
<polyline points="54.7,251.6 59.8,255.3" fill="none" stroke="#55565a" stroke-width="0.6"/>
<polyline points="69,251.8 63.8,255.5" fill="none" stroke="#55565a" stroke-width="0.6"/>
<polyline points="63.8,255.5 63.8,261 75.5,261" fill="none" stroke="#85878a" stroke-width="0.6"/>
<polyline points="91,252.5 79,252.5 76.2,255.5" fill="none" stroke="#55565a" stroke-width="0.6"/>
<line x1="48.80" y1="256.00" x2="48.80" y2="260.20" stroke="#555" stroke-width="0.9"/>
<line x1="50.20" y1="256.00" x2="50.20" y2="260.20" stroke="#555" stroke-width="0.9"/>
<line x1="51.60" y1="256.00" x2="51.60" y2="260.20" stroke="#555" stroke-width="0.9"/>
<line x1="52.80" y1="256.00" x2="52.80" y2="260.20" stroke="#555" stroke-width="0.9"/>
<line x1="60.00" y1="256.00" x2="60.00" y2="260.30" stroke="#444" stroke-width="0.8"/>
<line x1="75.80" y1="256.00" x2="75.80" y2="260.50" stroke="#666" stroke-width="0.8"/>
<text x="84.60" y="261.07" font-size="7.7" fill="#231f20" stroke="#231f20" stroke-width="0.2">1.5MB</text>
<rect x="41.30" y="266.30" width="126.00" height="5.50" fill="#fff" stroke="#231f20" stroke-width="0.6"/>
<rect x="48.50" y="266.30" width="1.50" height="5.50" fill="#333"/>
<rect x="52.30" y="266.30" width="1.80" height="5.50" fill="#888"/>
<rect x="57.90" y="266.30" width="1.80" height="5.50" fill="#999"/>
<rect x="62.50" y="266.30" width="1.30" height="5.50" fill="#bbb"/>
<rect x="66.60" y="266.30" width="2.10" height="5.50" fill="#222"/>
<rect x="69.50" y="266.30" width="2.10" height="5.50" fill="#333"/>
<rect x="72.90" y="266.30" width="1.80" height="5.50" fill="#888"/>
<rect x="78.50" y="266.30" width="1.20" height="5.50" fill="#999"/>
<rect x="80.40" y="266.30" width="3.70" height="5.50" fill="#111"/>
<rect x="98.00" y="266.30" width="2.00" height="5.50" fill="#ccc"/>
<rect x="103.50" y="266.30" width="2.00" height="5.50" fill="#ddd"/>
<rect x="108.00" y="266.30" width="1.50" height="5.50" fill="#bbb"/>
<rect x="112.00" y="266.30" width="2.80" height="5.50" fill="#222"/>
<rect x="115.80" y="266.30" width="2.20" height="5.50" fill="#333"/>
<rect x="122.50" y="266.30" width="1.90" height="5.50" fill="#333"/>
<rect x="127.30" y="266.30" width="1.90" height="5.50" fill="#333"/>
<rect x="134.00" y="266.30" width="2.00" height="5.50" fill="#777"/>
<rect x="137.90" y="266.30" width="1.90" height="5.50" fill="#222"/>
<rect x="142.00" y="266.30" width="1.80" height="5.50" fill="#777"/>
<rect x="146.50" y="266.30" width="1.50" height="5.50" fill="#aaa"/>
<rect x="150.40" y="266.30" width="2.30" height="5.50" fill="#222"/>
<rect x="156.50" y="266.30" width="2.00" height="5.50" fill="#777"/>
<line x1="44.90" y1="266.30" x2="44.90" y2="271.80" stroke="#231f20" stroke-width="0.5"/>
<line x1="47.90" y1="266.30" x2="47.90" y2="271.80" stroke="#231f20" stroke-width="0.5"/>
<line x1="51.20" y1="266.30" x2="51.20" y2="271.80" stroke="#231f20" stroke-width="0.5"/>
<line x1="55.60" y1="266.30" x2="55.60" y2="271.80" stroke="#231f20" stroke-width="0.5"/>
<line x1="61.20" y1="266.30" x2="61.20" y2="271.80" stroke="#231f20" stroke-width="0.5"/>
<line x1="65.20" y1="266.30" x2="65.20" y2="271.80" stroke="#231f20" stroke-width="0.5"/>
<line x1="76.50" y1="266.30" x2="76.50" y2="271.80" stroke="#231f20" stroke-width="0.5"/>
<line x1="86.00" y1="266.30" x2="86.00" y2="271.80" stroke="#231f20" stroke-width="0.5"/>
<line x1="93.50" y1="266.30" x2="93.50" y2="271.80" stroke="#231f20" stroke-width="0.5"/>
<line x1="96.50" y1="266.30" x2="96.50" y2="271.80" stroke="#231f20" stroke-width="0.5"/>
<line x1="101.80" y1="266.30" x2="101.80" y2="271.80" stroke="#231f20" stroke-width="0.5"/>
<line x1="106.80" y1="266.30" x2="106.80" y2="271.80" stroke="#231f20" stroke-width="0.5"/>
<line x1="110.80" y1="266.30" x2="110.80" y2="271.80" stroke="#231f20" stroke-width="0.5"/>
<line x1="120.30" y1="266.30" x2="120.30" y2="271.80" stroke="#231f20" stroke-width="0.5"/>
<line x1="125.80" y1="266.30" x2="125.80" y2="271.80" stroke="#231f20" stroke-width="0.5"/>
<line x1="131.50" y1="266.30" x2="131.50" y2="271.80" stroke="#231f20" stroke-width="0.5"/>
<line x1="145.00" y1="266.30" x2="145.00" y2="271.80" stroke="#231f20" stroke-width="0.5"/>
<line x1="154.50" y1="266.30" x2="154.50" y2="271.80" stroke="#231f20" stroke-width="0.5"/>
<line x1="160.50" y1="266.30" x2="160.50" y2="271.80" stroke="#231f20" stroke-width="0.5"/>
<line x1="163.80" y1="266.30" x2="163.80" y2="271.80" stroke="#231f20" stroke-width="0.5"/>
<path d="M87.8,266.3 L91.4,271.8 M91.4,266.3 L87.8,271.8" stroke="#a11d21" stroke-width="1.6" fill="none"/>
<rect x="88.20" y="266.60" width="2.80" height="4.90" fill="#b3262a"/>
<text x="169.60" y="271.77" font-size="7.7" fill="#231f20" stroke="#231f20" stroke-width="0.2">Chr2</text>
<line x1="40.00" y1="280.50" x2="40.00" y2="378.30" stroke="#bdbdbd" stroke-width="0.7"/>
<line x1="38.30" y1="378.30" x2="40.00" y2="378.30" stroke="#bdbdbd" stroke-width="0.7"/>
<text x="35.50" y="381.07" font-size="7.7" text-anchor="end" fill="#231f20" stroke="#231f20" stroke-width="0.2">0</text>
<line x1="38.30" y1="355.00" x2="40.00" y2="355.00" stroke="#bdbdbd" stroke-width="0.7"/>
<text x="35.50" y="357.77" font-size="7.7" text-anchor="end" fill="#231f20" stroke="#231f20" stroke-width="0.2">20</text>
<line x1="38.30" y1="331.70" x2="40.00" y2="331.70" stroke="#bdbdbd" stroke-width="0.7"/>
<text x="35.50" y="334.47" font-size="7.7" text-anchor="end" fill="#231f20" stroke="#231f20" stroke-width="0.2">40</text>
<line x1="38.30" y1="308.40" x2="40.00" y2="308.40" stroke="#bdbdbd" stroke-width="0.7"/>
<text x="35.50" y="311.17" font-size="7.7" text-anchor="end" fill="#231f20" stroke="#231f20" stroke-width="0.2">60</text>
<line x1="38.30" y1="285.10" x2="40.00" y2="285.10" stroke="#bdbdbd" stroke-width="0.7"/>
<text x="35.50" y="287.87" font-size="7.7" text-anchor="end" fill="#231f20" stroke="#231f20" stroke-width="0.2">80</text>
<text transform="translate(16.60,332.00) rotate(-90)" x="0" y="2.77" font-size="7.7" text-anchor="middle" fill="#231f20" stroke="#231f20" stroke-width="0.2">Case number</text>
<rect x="51.90" y="293.25" width="10.00" height="85.05" fill="#3b3b3d"/>
<rect x="68.70" y="329.37" width="10.00" height="48.93" fill="#3b3b3d"/>
<rect x="85.50" y="330.54" width="10.00" height="47.77" fill="#3b3b3d"/>
<rect x="102.00" y="339.86" width="10.00" height="38.45" fill="#3b3b3d"/>
<rect x="118.80" y="346.85" width="10.00" height="31.46" fill="#3b3b3d"/>
<rect x="135.50" y="352.67" width="10.00" height="25.63" fill="#3b3b3d"/>
<line x1="39.80" y1="377.10" x2="157.00" y2="377.10" stroke="#231f20" stroke-width="0.9"/>
<rect x="107.30" y="276.80" width="77.70" height="50.00" fill="none" stroke="#a7a9ac" stroke-width="0.6" stroke-dasharray="2.2,1.6"/>
<rect x="111.90" y="281.00" width="15.09" height="4.00" fill="#6a82c8"/>
<rect x="111.90" y="290.50" width="16.06" height="4.00" fill="#6a82c8"/>
<rect x="111.90" y="299.70" width="27.09" height="4.00" fill="#6a82c8"/>
<rect x="111.90" y="309.30" width="46.83" height="4.00" fill="#6a82c8"/>
<text x="129.80" y="285.77" font-size="7.7" font-style="italic" fill="#231f20" stroke="#231f20" stroke-width="0.2">NBAS</text>
<text x="129.80" y="295.27" font-size="7.7" font-style="italic" fill="#231f20" stroke="#231f20" stroke-width="0.2">FAM49A</text>
<text x="141.30" y="304.47" font-size="7.7" font-style="italic" fill="#eb736b" stroke="#eb736b" stroke-width="0.05">DDX1</text>
<text x="160.60" y="314.07" font-size="7.7" font-style="italic" fill="#5873c2" stroke="#5873c2" stroke-width="0.05">MYCN</text>
<line x1="111.90" y1="316.30" x2="160.60" y2="316.30" stroke="#b08a8a" stroke-width="0.6"/>
<line x1="111.90" y1="316.30" x2="111.90" y2="317.60" stroke="#888" stroke-width="0.5"/>
<text x="111.90" y="324.77" font-size="7.7" text-anchor="middle" fill="#231f20" stroke="#231f20" stroke-width="0.2">0</text>
<line x1="131.25" y1="316.30" x2="131.25" y2="317.60" stroke="#888" stroke-width="0.5"/>
<text x="131.25" y="324.77" font-size="7.7" text-anchor="middle" fill="#231f20" stroke="#231f20" stroke-width="0.2">100</text>
<line x1="150.60" y1="316.30" x2="150.60" y2="317.60" stroke="#888" stroke-width="0.5"/>
<text x="150.60" y="324.77" font-size="7.7" text-anchor="middle" fill="#231f20" stroke="#231f20" stroke-width="0.2">200</text>
<rect x="39.80" y="385.40" width="118.00" height="7.30" fill="#f4f4f5"/>
<rect x="39.80" y="400.80" width="118.00" height="7.30" fill="#f4f4f5"/>
<circle cx="56.90" cy="381.50" r="0.8" fill="#dcddde"/>
<circle cx="56.90" cy="389.00" r="0.8" fill="#dcddde"/>
<circle cx="56.90" cy="397.00" r="0.8" fill="#dcddde"/>
<circle cx="56.90" cy="404.50" r="1.25" fill="#111"/>
<circle cx="73.70" cy="389.00" r="0.8" fill="#dcddde"/>
<line x1="73.70" y1="381.50" x2="73.70" y2="404.50" stroke="#231f20" stroke-width="0.6"/>
<circle cx="73.70" cy="381.50" r="1.25" fill="#111"/>
<circle cx="73.70" cy="397.00" r="1.25" fill="#111"/>
<circle cx="73.70" cy="404.50" r="1.25" fill="#111"/>
<circle cx="90.50" cy="381.50" r="0.8" fill="#dcddde"/>
<circle cx="90.50" cy="389.00" r="0.8" fill="#dcddde"/>
<line x1="90.50" y1="397.00" x2="90.50" y2="404.50" stroke="#231f20" stroke-width="0.6"/>
<circle cx="90.50" cy="397.00" r="1.25" fill="#111"/>
<circle cx="90.50" cy="404.50" r="1.25" fill="#111"/>
<line x1="107.00" y1="381.50" x2="107.00" y2="404.50" stroke="#231f20" stroke-width="0.6"/>
<circle cx="107.00" cy="381.50" r="1.25" fill="#111"/>
<circle cx="107.00" cy="389.00" r="1.25" fill="#111"/>
<circle cx="107.00" cy="397.00" r="1.25" fill="#111"/>
<circle cx="107.00" cy="404.50" r="1.25" fill="#111"/>
<circle cx="123.80" cy="381.50" r="0.8" fill="#dcddde"/>
<circle cx="123.80" cy="397.00" r="0.8" fill="#dcddde"/>
<line x1="123.80" y1="389.00" x2="123.80" y2="404.50" stroke="#231f20" stroke-width="0.6"/>
<circle cx="123.80" cy="389.00" r="1.25" fill="#111"/>
<circle cx="123.80" cy="404.50" r="1.25" fill="#111"/>
<circle cx="140.50" cy="381.50" r="0.8" fill="#dcddde"/>
<line x1="140.50" y1="389.00" x2="140.50" y2="404.50" stroke="#231f20" stroke-width="0.6"/>
<circle cx="140.50" cy="389.00" r="1.25" fill="#111"/>
<circle cx="140.50" cy="397.00" r="1.25" fill="#111"/>
<circle cx="140.50" cy="404.50" r="1.25" fill="#111"/>
<text x="159.70" y="384.27" font-size="7.7" font-style="italic" fill="#231f20" stroke="#231f20" stroke-width="0.2">NBAS</text>
<text x="159.70" y="391.77" font-size="7.7" font-style="italic" fill="#231f20" stroke="#231f20" stroke-width="0.2">FAM49A</text>
<text x="159.70" y="399.77" font-size="7.7" font-style="italic" fill="#eb736b" stroke="#eb736b" stroke-width="0.05">DDX1</text>
<text x="159.70" y="407.07" font-size="7.7" font-style="italic" fill="#5873c2" stroke="#5873c2" stroke-width="0.05">MYCN</text>
<text x="248.00" y="238.53" font-size="9.8" font-weight="bold" fill="#000" stroke="#000" stroke-width="0.35">D</text>
<text transform="translate(250.40,303.50) rotate(-90)" x="0" y="2.77" font-size="7.7" text-anchor="middle" fill="#231f20" stroke="#231f20" stroke-width="0.2">GO ontology</text>
<text x="389.50" y="249.47" font-size="7.7" text-anchor="end" fill="#231f20" stroke="#231f20" stroke-width="0.2">TOR complex</text>
<text x="389.50" y="261.07" font-size="7.7" text-anchor="end" fill="#231f20" stroke="#231f20" stroke-width="0.2">Condensed chromosome</text>
<text x="389.50" y="269.17" font-size="7.7" text-anchor="end" fill="#231f20" stroke="#231f20" stroke-width="0.2">Condensed chromosome centromeric</text>
<text x="389.50" y="275.87" font-size="7.7" text-anchor="end" fill="#231f20" stroke="#231f20" stroke-width="0.2">region</text>
<text x="389.50" y="283.97" font-size="7.7" text-anchor="end" fill="#231f20" stroke="#231f20" stroke-width="0.2">RNA polymerase II transcription</text>
<text x="389.50" y="290.47" font-size="7.7" text-anchor="end" fill="#231f20" stroke="#231f20" stroke-width="0.2">factor complex</text>
<text x="389.50" y="299.07" font-size="7.7" text-anchor="end" fill="#231f20" stroke="#231f20" stroke-width="0.2">Nuclear transcription</text>
<text x="389.50" y="305.77" font-size="7.7" text-anchor="end" fill="#231f20" stroke="#231f20" stroke-width="0.2">factor complex</text>
<text x="389.50" y="312.77" font-size="7.7" text-anchor="end" fill="#231f20" stroke="#231f20" stroke-width="0.2">Chromosome, centromeric region</text>
<text x="389.50" y="321.97" font-size="7.7" text-anchor="end" fill="#231f20" stroke="#231f20" stroke-width="0.2">Protein acetyltransferase</text>
<text x="389.50" y="328.57" font-size="7.7" text-anchor="end" fill="#231f20" stroke="#231f20" stroke-width="0.2">complex</text>
<text x="389.50" y="335.97" font-size="7.7" text-anchor="end" fill="#231f20" stroke="#231f20" stroke-width="0.2">Histone methyltransferase</text>
<text x="389.50" y="342.37" font-size="7.7" text-anchor="end" fill="#231f20" stroke="#231f20" stroke-width="0.2">complex</text>
<text x="389.50" y="350.27" font-size="7.7" text-anchor="end" fill="#231f20" stroke="#231f20" stroke-width="0.2">Histone acetyltransferase complex</text>
<text x="389.50" y="362.77" font-size="7.7" text-anchor="end" fill="#231f20" stroke="#231f20" stroke-width="0.2">Cytosolic part</text>
<line x1="393.20" y1="246.00" x2="393.20" y2="360.50" stroke="#7b7c80" stroke-width="0.5"/>
<rect x="398.30" y="241.10" width="122.70" height="10.90" fill="#e8625a"/>
<line x1="391.80" y1="246.55" x2="393.20" y2="246.55" stroke="#7b7c80" stroke-width="0.5"/>
<rect x="398.30" y="254.10" width="122.70" height="10.90" fill="#545557"/>
<line x1="391.80" y1="259.55" x2="393.20" y2="259.55" stroke="#7b7c80" stroke-width="0.5"/>
<rect x="398.30" y="266.60" width="109.70" height="10.90" fill="#545557"/>
<line x1="391.80" y1="272.05" x2="393.20" y2="272.05" stroke="#7b7c80" stroke-width="0.5"/>
<rect x="398.30" y="279.10" width="95.20" height="10.90" fill="#545557"/>
<line x1="391.80" y1="284.55" x2="393.20" y2="284.55" stroke="#7b7c80" stroke-width="0.5"/>
<rect x="398.30" y="291.80" width="90.70" height="10.90" fill="#545557"/>
<line x1="391.80" y1="297.25" x2="393.20" y2="297.25" stroke="#7b7c80" stroke-width="0.5"/>
<rect x="398.30" y="304.30" width="90.70" height="10.90" fill="#545557"/>
<line x1="391.80" y1="309.75" x2="393.20" y2="309.75" stroke="#7b7c80" stroke-width="0.5"/>
<rect x="398.30" y="316.80" width="84.10" height="10.90" fill="#545557"/>
<line x1="391.80" y1="322.25" x2="393.20" y2="322.25" stroke="#7b7c80" stroke-width="0.5"/>
<rect x="398.30" y="329.30" width="84.10" height="10.90" fill="#545557"/>
<line x1="391.80" y1="334.75" x2="393.20" y2="334.75" stroke="#7b7c80" stroke-width="0.5"/>
<rect x="398.30" y="341.80" width="84.10" height="10.90" fill="#545557"/>
<line x1="391.80" y1="347.25" x2="393.20" y2="347.25" stroke="#7b7c80" stroke-width="0.5"/>
<rect x="398.30" y="354.30" width="84.10" height="10.90" fill="#545557"/>
<line x1="391.80" y1="359.75" x2="393.20" y2="359.75" stroke="#7b7c80" stroke-width="0.5"/>
<line x1="397.90" y1="367.40" x2="520.00" y2="367.40" stroke="#2e2e30" stroke-width="0.9"/>
<line x1="398.30" y1="367.40" x2="398.30" y2="369.00" stroke="#2e2e30" stroke-width="0.8"/>
<text x="398.50" y="378.27" font-size="7.7" text-anchor="middle" fill="#231f20" stroke="#231f20" stroke-width="0.2">0</text>
<line x1="441.30" y1="367.40" x2="441.30" y2="369.00" stroke="#2e2e30" stroke-width="0.8"/>
<text x="441.50" y="378.27" font-size="7.7" text-anchor="middle" fill="#231f20" stroke="#231f20" stroke-width="0.2">2</text>
<line x1="484.30" y1="367.40" x2="484.30" y2="369.00" stroke="#2e2e30" stroke-width="0.8"/>
<text x="484.50" y="378.27" font-size="7.7" text-anchor="middle" fill="#231f20" stroke="#231f20" stroke-width="0.2">4</text>
<text x="458.50" y="389.77" font-size="7.7" text-anchor="middle" fill="#231f20" stroke="#231f20" stroke-width="0.2">–Log(<tspan font-style="italic">q</tspan> value)</text>
<text x="1.50" y="438.03" font-size="9.8" font-weight="bold" fill="#000" stroke="#000" stroke-width="0.35">E</text>
<line x1="40.00" y1="439.00" x2="40.00" y2="535.30" stroke="#9a9a9a" stroke-width="0.7"/>
<line x1="38.30" y1="534.00" x2="40.00" y2="534.00" stroke="#9a9a9a" stroke-width="0.7"/>
<text x="35.80" y="536.77" font-size="7.7" text-anchor="end" fill="#231f20" stroke="#231f20" stroke-width="0.2">0</text>
<line x1="38.30" y1="504.40" x2="40.00" y2="504.40" stroke="#9a9a9a" stroke-width="0.7"/>
<text x="35.80" y="507.17" font-size="7.7" text-anchor="end" fill="#231f20" stroke="#231f20" stroke-width="0.2">1</text>
<line x1="38.30" y1="474.80" x2="40.00" y2="474.80" stroke="#9a9a9a" stroke-width="0.7"/>
<text x="35.80" y="477.57" font-size="7.7" text-anchor="end" fill="#231f20" stroke="#231f20" stroke-width="0.2">2</text>
<line x1="38.30" y1="445.20" x2="40.00" y2="445.20" stroke="#9a9a9a" stroke-width="0.7"/>
<text x="35.80" y="447.97" font-size="7.7" text-anchor="end" fill="#231f20" stroke="#231f20" stroke-width="0.2">3</text>
<line x1="48.70" y1="539.00" x2="208.60" y2="539.00" stroke="#9a9a9a" stroke-width="0.7"/>
<line x1="51.40" y1="537.00" x2="51.40" y2="539.00" stroke="#9a9a9a" stroke-width="0.7"/>
<text x="51.40" y="549.27" font-size="7.7" text-anchor="middle" fill="#231f20" stroke="#231f20" stroke-width="0.2">–0.6</text>
<line x1="82.70" y1="537.00" x2="82.70" y2="539.00" stroke="#9a9a9a" stroke-width="0.7"/>
<text x="82.70" y="549.27" font-size="7.7" text-anchor="middle" fill="#231f20" stroke="#231f20" stroke-width="0.2">–0.4</text>
<line x1="114.00" y1="537.00" x2="114.00" y2="539.00" stroke="#9a9a9a" stroke-width="0.7"/>
<text x="114.00" y="549.27" font-size="7.7" text-anchor="middle" fill="#231f20" stroke="#231f20" stroke-width="0.2">–0.2</text>
<line x1="145.30" y1="537.00" x2="145.30" y2="539.00" stroke="#9a9a9a" stroke-width="0.7"/>
<text x="145.30" y="549.27" font-size="7.7" text-anchor="middle" fill="#231f20" stroke="#231f20" stroke-width="0.2">0</text>
<line x1="176.60" y1="537.00" x2="176.60" y2="539.00" stroke="#9a9a9a" stroke-width="0.7"/>
<text x="176.60" y="549.27" font-size="7.7" text-anchor="middle" fill="#231f20" stroke="#231f20" stroke-width="0.2">0.2</text>
<line x1="207.90" y1="537.00" x2="207.90" y2="539.00" stroke="#9a9a9a" stroke-width="0.7"/>
<text x="207.90" y="549.27" font-size="7.7" text-anchor="middle" fill="#231f20" stroke="#231f20" stroke-width="0.2">0.4</text>
<text transform="translate(21.30,486.50) rotate(-90)" x="0" y="2.66" font-size="7.4" text-anchor="middle" fill="#231f20" stroke="#231f20" stroke-width="0.2">–Log<tspan font-size="5.2" dy="1.6">10</tspan><tspan dy="-1.6"> ( </tspan><tspan font-style="italic">P</tspan> value)</text>
<text x="24.20" y="563.04" font-size="7.6" fill="#231f20" stroke="#231f20" stroke-width="0.2">ΔMedian (<tspan font-style="italic">DDX1-MYCN</tspan> coamplification vs. no coamplification)</text>
<polygon points="88,534.9 88,533.3 101.7,531.4 112.3,529.7 120.8,526.5 129.2,522.3 135.6,517 141.9,510.7 146.2,504.3 149.3,498 149.8,497 176.6,497 176.8,501 174.7,509.6 172.3,515 169.4,520.2 166.3,524 163,527.6 159,530.5 154.6,532.9 149,534.2 144,534.8" fill="#bcbdc0"/>
<rect x="149.50" y="496.50" width="1.58" height="1.00" fill="#9a9b9e"/>
<rect x="151.08" y="496.50" width="1.36" height="1.00" fill="#9a9b9e"/>
<rect x="154.11" y="496.50" width="1.98" height="1.00" fill="#9a9b9e"/>
<rect x="156.10" y="496.50" width="0.93" height="1.00" fill="#9a9b9e"/>
<rect x="157.03" y="496.50" width="0.90" height="1.00" fill="#9a9b9e"/>
<rect x="157.92" y="496.50" width="1.86" height="1.00" fill="#9a9b9e"/>
<rect x="159.79" y="496.50" width="1.71" height="1.00" fill="#9a9b9e"/>
<rect x="161.50" y="496.50" width="1.72" height="1.00" fill="#9a9b9e"/>
<rect x="163.22" y="496.50" width="1.76" height="1.00" fill="#9a9b9e"/>
<rect x="164.98" y="496.50" width="1.65" height="1.00" fill="#9a9b9e"/>
<rect x="166.63" y="496.50" width="1.45" height="1.00" fill="#9a9b9e"/>
<rect x="168.08" y="496.50" width="1.19" height="1.00" fill="#9a9b9e"/>
<rect x="169.27" y="496.50" width="1.37" height="1.00" fill="#9a9b9e"/>
<rect x="170.64" y="496.50" width="1.10" height="1.00" fill="#9a9b9e"/>
<rect x="171.74" y="496.50" width="1.29" height="1.00" fill="#9a9b9e"/>
<rect x="173.02" y="496.50" width="1.36" height="1.00" fill="#9a9b9e"/>
<rect x="174.38" y="496.50" width="0.87" height="1.00" fill="#9a9b9e"/>
<rect x="175.25" y="496.50" width="0.88" height="1.00" fill="#9a9b9e"/>
<rect x="176.13" y="496.50" width="0.17" height="1.00" fill="#9a9b9e"/>
<rect x="149.74" y="495.35" width="1.94" height="1.00" fill="#9a9b9e"/>
<rect x="153.38" y="495.35" width="1.91" height="1.00" fill="#9a9b9e"/>
<rect x="155.29" y="495.35" width="1.67" height="1.00" fill="#9a9b9e"/>
<rect x="158.72" y="495.35" width="0.88" height="1.00" fill="#9a9b9e"/>
<rect x="159.60" y="495.35" width="0.93" height="1.00" fill="#9a9b9e"/>
<rect x="160.53" y="495.35" width="1.36" height="1.00" fill="#9a9b9e"/>
<rect x="161.89" y="495.35" width="1.75" height="1.00" fill="#9a9b9e"/>
<rect x="163.64" y="495.35" width="1.78" height="1.00" fill="#9a9b9e"/>
<rect x="165.42" y="495.35" width="1.40" height="1.00" fill="#9a9b9e"/>
<rect x="166.81" y="495.35" width="1.92" height="1.00" fill="#9a9b9e"/>
<rect x="168.73" y="495.35" width="1.63" height="1.00" fill="#9a9b9e"/>
<rect x="170.36" y="495.35" width="1.08" height="1.00" fill="#9a9b9e"/>
<rect x="171.44" y="495.35" width="1.35" height="1.00" fill="#9a9b9e"/>
<rect x="172.80" y="495.35" width="1.51" height="1.00" fill="#9a9b9e"/>
<rect x="174.31" y="495.35" width="1.27" height="1.00" fill="#9a9b9e"/>
<rect x="175.58" y="495.35" width="0.67" height="1.00" fill="#9a9b9e"/>
<rect x="151.37" y="494.16" width="0.99" height="1.00" fill="#9a9b9e"/>
<rect x="152.37" y="494.16" width="0.93" height="1.00" fill="#9a9b9e"/>
<rect x="153.29" y="494.16" width="1.55" height="1.00" fill="#9a9b9e"/>
<rect x="156.15" y="494.16" width="1.97" height="1.00" fill="#9a9b9e"/>
<rect x="158.11" y="494.16" width="0.96" height="1.00" fill="#9a9b9e"/>
<rect x="159.07" y="494.16" width="1.87" height="1.00" fill="#9a9b9e"/>
<rect x="160.94" y="494.16" width="1.45" height="1.00" fill="#9a9b9e"/>
<rect x="162.39" y="494.16" width="1.71" height="1.00" fill="#9a9b9e"/>
<rect x="164.10" y="494.16" width="1.15" height="1.00" fill="#9a9b9e"/>
<rect x="165.25" y="494.16" width="1.12" height="1.00" fill="#9a9b9e"/>
<rect x="166.37" y="494.16" width="1.11" height="1.00" fill="#9a9b9e"/>
<rect x="167.49" y="494.16" width="1.02" height="1.00" fill="#9a9b9e"/>
<rect x="168.51" y="494.16" width="1.14" height="1.00" fill="#9a9b9e"/>
<rect x="169.65" y="494.16" width="1.03" height="1.00" fill="#9a9b9e"/>
<rect x="170.67" y="494.16" width="1.10" height="1.00" fill="#9a9b9e"/>
<rect x="171.77" y="494.16" width="1.43" height="1.00" fill="#9a9b9e"/>
<rect x="173.21" y="494.16" width="0.92" height="1.00" fill="#9a9b9e"/>
<rect x="174.13" y="494.16" width="0.84" height="1.00" fill="#9a9b9e"/>
<rect x="174.97" y="494.16" width="1.22" height="1.00" fill="#9a9b9e"/>
<rect x="150.26" y="492.91" width="1.34" height="1.00" fill="#9a9b9e"/>
<rect x="151.59" y="492.91" width="1.85" height="1.00" fill="#9a9b9e"/>
<rect x="153.45" y="492.91" width="0.86" height="1.00" fill="#9a9b9e"/>
<rect x="154.31" y="492.91" width="1.79" height="1.00" fill="#9a9b9e"/>
<rect x="156.10" y="492.91" width="0.89" height="1.00" fill="#9a9b9e"/>
<rect x="156.99" y="492.91" width="1.01" height="1.00" fill="#9a9b9e"/>
<rect x="158.00" y="492.91" width="1.73" height="1.00" fill="#9a9b9e"/>
<rect x="159.73" y="492.91" width="0.81" height="1.00" fill="#9a9b9e"/>
<rect x="160.54" y="492.91" width="1.65" height="1.00" fill="#9a9b9e"/>
<rect x="162.19" y="492.91" width="0.84" height="1.00" fill="#9a9b9e"/>
<rect x="163.89" y="492.91" width="0.85" height="1.00" fill="#9a9b9e"/>
<rect x="164.74" y="492.91" width="1.90" height="1.00" fill="#9a9b9e"/>
<rect x="166.63" y="492.91" width="1.78" height="1.00" fill="#9a9b9e"/>
<rect x="168.42" y="492.91" width="1.25" height="1.00" fill="#9a9b9e"/>
<rect x="169.66" y="492.91" width="0.89" height="1.00" fill="#9a9b9e"/>
<rect x="170.56" y="492.91" width="1.39" height="1.00" fill="#9a9b9e"/>
<rect x="171.95" y="492.91" width="1.29" height="1.00" fill="#9a9b9e"/>
<rect x="173.24" y="492.91" width="1.60" height="1.00" fill="#9a9b9e"/>
<rect x="174.84" y="492.91" width="1.30" height="1.00" fill="#9a9b9e"/>
<rect x="150.53" y="491.62" width="1.28" height="1.00" fill="#9a9b9e"/>
<rect x="153.79" y="491.62" width="1.30" height="1.00" fill="#9a9b9e"/>
<rect x="156.79" y="491.62" width="1.30" height="1.00" fill="#9a9b9e"/>
<rect x="158.09" y="491.62" width="1.72" height="1.00" fill="#9a9b9e"/>
<rect x="159.81" y="491.62" width="1.57" height="1.00" fill="#9a9b9e"/>
<rect x="161.38" y="491.62" width="1.29" height="1.00" fill="#9a9b9e"/>
<rect x="162.66" y="491.62" width="1.32" height="1.00" fill="#9a9b9e"/>
<rect x="163.99" y="491.62" width="0.94" height="1.00" fill="#9a9b9e"/>
<rect x="164.92" y="491.62" width="1.49" height="1.00" fill="#9a9b9e"/>
<rect x="166.42" y="491.62" width="1.73" height="1.00" fill="#9a9b9e"/>
<rect x="168.14" y="491.62" width="0.86" height="1.00" fill="#9a9b9e"/>
<rect x="169.00" y="491.62" width="1.77" height="1.00" fill="#9a9b9e"/>
<rect x="170.77" y="491.62" width="1.49" height="1.00" fill="#9a9b9e"/>
<rect x="172.26" y="491.62" width="1.68" height="1.00" fill="#9a9b9e"/>
<rect x="173.94" y="491.62" width="1.22" height="1.00" fill="#9a9b9e"/>
<rect x="175.16" y="491.62" width="0.92" height="1.00" fill="#9a9b9e"/>
<rect x="155.84" y="490.29" width="1.18" height="1.00" fill="#9a9b9e"/>
<rect x="157.01" y="490.29" width="1.56" height="1.00" fill="#9a9b9e"/>
<rect x="158.58" y="490.29" width="1.65" height="1.00" fill="#9a9b9e"/>
<rect x="160.23" y="490.29" width="1.87" height="1.00" fill="#9a9b9e"/>
<rect x="162.10" y="490.29" width="1.83" height="1.00" fill="#9a9b9e"/>
<rect x="163.93" y="490.29" width="1.54" height="1.00" fill="#9a9b9e"/>
<rect x="165.47" y="490.29" width="1.37" height="1.00" fill="#9a9b9e"/>
<rect x="167.69" y="490.29" width="0.99" height="1.00" fill="#9a9b9e"/>
<rect x="169.65" y="490.29" width="1.78" height="1.00" fill="#9a9b9e"/>
<rect x="171.43" y="490.29" width="1.86" height="1.00" fill="#9a9b9e"/>
<rect x="173.29" y="490.29" width="1.61" height="1.00" fill="#9a9b9e"/>
<rect x="174.90" y="490.29" width="1.12" height="1.00" fill="#9a9b9e"/>
<rect x="154.19" y="488.89" width="1.17" height="1.00" fill="#9a9b9e"/>
<rect x="155.36" y="488.89" width="1.27" height="1.00" fill="#9a9b9e"/>
<rect x="156.62" y="488.89" width="1.40" height="1.00" fill="#9a9b9e"/>
<rect x="158.83" y="488.89" width="1.36" height="1.00" fill="#9a9b9e"/>
<rect x="160.19" y="488.89" width="1.54" height="1.00" fill="#9a9b9e"/>
<rect x="161.73" y="488.89" width="1.80" height="1.00" fill="#9a9b9e"/>
<rect x="163.54" y="488.89" width="1.28" height="1.00" fill="#9a9b9e"/>
<rect x="164.82" y="488.89" width="1.23" height="1.00" fill="#9a9b9e"/>
<rect x="166.05" y="488.89" width="1.76" height="1.00" fill="#9a9b9e"/>
<rect x="167.81" y="488.89" width="1.59" height="1.00" fill="#9a9b9e"/>
<rect x="170.35" y="488.89" width="1.18" height="1.00" fill="#9a9b9e"/>
<rect x="171.53" y="488.89" width="0.90" height="1.00" fill="#9a9b9e"/>
<rect x="172.43" y="488.89" width="1.87" height="1.00" fill="#9a9b9e"/>
<rect x="174.30" y="488.89" width="1.66" height="1.00" fill="#9a9b9e"/>
<rect x="152.29" y="487.45" width="1.63" height="1.00" fill="#9a9b9e"/>
<rect x="156.03" y="487.45" width="1.75" height="1.00" fill="#9a9b9e"/>
<rect x="157.78" y="487.45" width="1.67" height="1.00" fill="#9a9b9e"/>
<rect x="159.44" y="487.45" width="1.80" height="1.00" fill="#9a9b9e"/>
<rect x="161.24" y="487.45" width="1.10" height="1.00" fill="#9a9b9e"/>
<rect x="162.35" y="487.45" width="1.54" height="1.00" fill="#9a9b9e"/>
<rect x="163.88" y="487.45" width="1.35" height="1.00" fill="#9a9b9e"/>
<rect x="165.23" y="487.45" width="1.96" height="1.00" fill="#9a9b9e"/>
<rect x="167.19" y="487.45" width="1.51" height="1.00" fill="#9a9b9e"/>
<rect x="168.70" y="487.45" width="1.08" height="1.00" fill="#9a9b9e"/>
<rect x="169.78" y="487.45" width="1.04" height="1.00" fill="#9a9b9e"/>
<rect x="170.82" y="487.45" width="1.56" height="1.00" fill="#9a9b9e"/>
<rect x="172.39" y="487.45" width="1.19" height="1.00" fill="#9a9b9e"/>
<rect x="173.58" y="487.45" width="1.75" height="1.00" fill="#9a9b9e"/>
<rect x="175.33" y="487.45" width="0.57" height="1.00" fill="#9a9b9e"/>
<rect x="153.56" y="485.95" width="1.34" height="1.00" fill="#9a9b9e"/>
<rect x="156.53" y="485.95" width="1.10" height="1.00" fill="#9a9b9e"/>
<rect x="157.63" y="485.95" width="1.83" height="1.00" fill="#9a9b9e"/>
<rect x="159.46" y="485.95" width="1.25" height="1.00" fill="#9a9b9e"/>
<rect x="160.70" y="485.95" width="1.24" height="1.00" fill="#9a9b9e"/>
<rect x="161.95" y="485.95" width="1.20" height="1.00" fill="#9a9b9e"/>
<rect x="163.14" y="485.95" width="1.08" height="1.00" fill="#9a9b9e"/>
<rect x="164.22" y="485.95" width="1.95" height="1.00" fill="#9a9b9e"/>
<rect x="166.17" y="485.95" width="1.42" height="1.00" fill="#9a9b9e"/>
<rect x="167.59" y="485.95" width="1.96" height="1.00" fill="#9a9b9e"/>
<rect x="169.55" y="485.95" width="1.91" height="1.00" fill="#9a9b9e"/>
<rect x="171.46" y="485.95" width="1.68" height="1.00" fill="#9a9b9e"/>
<rect x="173.14" y="485.95" width="1.07" height="1.00" fill="#9a9b9e"/>
<rect x="174.21" y="485.95" width="1.55" height="1.00" fill="#9a9b9e"/>
<rect x="175.76" y="485.95" width="0.07" height="1.00" fill="#9a9b9e"/>
<rect x="153.44" y="484.39" width="0.85" height="1.00" fill="#9a9b9e"/>
<rect x="154.30" y="484.39" width="1.48" height="1.00" fill="#9a9b9e"/>
<rect x="155.78" y="484.39" width="1.43" height="1.00" fill="#9a9b9e"/>
<rect x="157.21" y="484.39" width="1.30" height="1.00" fill="#9a9b9e"/>
<rect x="158.50" y="484.39" width="0.96" height="1.00" fill="#9a9b9e"/>
<rect x="159.46" y="484.39" width="1.79" height="1.00" fill="#9a9b9e"/>
<rect x="161.26" y="484.39" width="0.82" height="1.00" fill="#9a9b9e"/>
<rect x="162.07" y="484.39" width="1.65" height="1.00" fill="#9a9b9e"/>
<rect x="163.72" y="484.39" width="0.88" height="1.00" fill="#9a9b9e"/>
<rect x="164.60" y="484.39" width="1.60" height="1.00" fill="#9a9b9e"/>
<rect x="167.97" y="484.39" width="0.87" height="1.00" fill="#9a9b9e"/>
<rect x="168.84" y="484.39" width="1.87" height="1.00" fill="#9a9b9e"/>
<rect x="170.71" y="484.39" width="1.49" height="1.00" fill="#9a9b9e"/>
<rect x="172.20" y="484.39" width="1.42" height="1.00" fill="#9a9b9e"/>
<rect x="173.63" y="484.39" width="1.00" height="1.00" fill="#9a9b9e"/>
<rect x="174.62" y="484.39" width="0.87" height="1.00" fill="#9a9b9e"/>
<rect x="175.50" y="484.39" width="0.26" height="1.00" fill="#9a9b9e"/>
<rect x="152.40" y="482.76" width="1.89" height="1.00" fill="#9a9b9e"/>
<rect x="155.83" y="482.76" width="1.04" height="1.00" fill="#9a9b9e"/>
<rect x="156.87" y="482.76" width="1.42" height="1.00" fill="#9a9b9e"/>
<rect x="158.29" y="482.76" width="1.58" height="1.00" fill="#9a9b9e"/>
<rect x="159.86" y="482.76" width="1.54" height="1.00" fill="#9a9b9e"/>
<rect x="161.40" y="482.76" width="0.88" height="1.00" fill="#9a9b9e"/>
<rect x="162.28" y="482.76" width="1.99" height="1.00" fill="#9a9b9e"/>
<rect x="164.27" y="482.76" width="1.37" height="1.00" fill="#9a9b9e"/>
<rect x="165.64" y="482.76" width="1.25" height="1.00" fill="#9a9b9e"/>
<rect x="166.89" y="482.76" width="1.89" height="1.00" fill="#9a9b9e"/>
<rect x="168.79" y="482.76" width="1.59" height="1.00" fill="#9a9b9e"/>
<rect x="170.38" y="482.76" width="2.00" height="1.00" fill="#9a9b9e"/>
<rect x="172.37" y="482.76" width="1.57" height="1.00" fill="#9a9b9e"/>
<rect x="152.76" y="481.08" width="1.93" height="1.00" fill="#9a9b9e"/>
<rect x="160.22" y="481.08" width="1.87" height="1.00" fill="#9a9b9e"/>
<rect x="162.09" y="481.08" width="1.41" height="1.00" fill="#9a9b9e"/>
<rect x="163.50" y="481.08" width="1.89" height="1.00" fill="#9a9b9e"/>
<rect x="165.39" y="481.08" width="1.04" height="1.00" fill="#9a9b9e"/>
<rect x="166.43" y="481.08" width="1.90" height="1.00" fill="#9a9b9e"/>
<rect x="168.33" y="481.08" width="1.27" height="1.00" fill="#9a9b9e"/>
<rect x="169.60" y="481.08" width="1.26" height="1.00" fill="#9a9b9e"/>
<rect x="172.76" y="481.08" width="1.81" height="1.00" fill="#9a9b9e"/>
<rect x="174.57" y="481.08" width="1.05" height="1.00" fill="#9a9b9e"/>
<rect x="153.12" y="479.33" width="0.81" height="1.00" fill="#9a9b9e"/>
<rect x="153.93" y="479.33" width="1.95" height="1.00" fill="#9a9b9e"/>
<rect x="157.74" y="479.33" width="1.27" height="1.00" fill="#9a9b9e"/>
<rect x="159.01" y="479.33" width="1.48" height="1.00" fill="#9a9b9e"/>
<rect x="160.49" y="479.33" width="0.84" height="1.00" fill="#9a9b9e"/>
<rect x="161.33" y="479.33" width="1.55" height="1.00" fill="#9a9b9e"/>
<rect x="162.87" y="479.33" width="1.97" height="1.00" fill="#9a9b9e"/>
<rect x="164.85" y="479.33" width="0.84" height="1.00" fill="#9a9b9e"/>
<rect x="165.68" y="479.33" width="1.57" height="1.00" fill="#9a9b9e"/>
<rect x="167.26" y="479.33" width="0.88" height="1.00" fill="#9a9b9e"/>
<rect x="168.14" y="479.33" width="1.83" height="1.00" fill="#9a9b9e"/>
<rect x="171.01" y="479.33" width="1.44" height="1.00" fill="#9a9b9e"/>
<rect x="172.45" y="479.33" width="1.86" height="1.00" fill="#9a9b9e"/>
<rect x="174.30" y="479.33" width="1.24" height="1.00" fill="#9a9b9e"/>
<rect x="153.51" y="477.51" width="1.10" height="1.00" fill="#9a9b9e"/>
<rect x="158.24" y="477.51" width="1.56" height="1.00" fill="#9a9b9e"/>
<rect x="160.76" y="477.51" width="1.58" height="1.00" fill="#9a9b9e"/>
<rect x="162.34" y="477.51" width="1.20" height="1.00" fill="#9a9b9e"/>
<rect x="164.76" y="477.51" width="0.86" height="1.00" fill="#9a9b9e"/>
<rect x="165.62" y="477.51" width="1.89" height="1.00" fill="#9a9b9e"/>
<rect x="167.51" y="477.51" width="1.52" height="1.00" fill="#9a9b9e"/>
<rect x="169.03" y="477.51" width="1.15" height="1.00" fill="#9a9b9e"/>
<rect x="170.18" y="477.51" width="1.75" height="1.00" fill="#9a9b9e"/>
<rect x="171.93" y="477.51" width="1.42" height="1.00" fill="#9a9b9e"/>
<rect x="173.35" y="477.51" width="1.36" height="1.00" fill="#9a9b9e"/>
<rect x="174.71" y="477.51" width="0.74" height="1.00" fill="#9a9b9e"/>
<rect x="155.70" y="475.62" width="1.14" height="1.00" fill="#9a9b9e"/>
<rect x="156.85" y="475.62" width="1.43" height="1.00" fill="#9a9b9e"/>
<rect x="158.27" y="475.62" width="1.70" height="1.00" fill="#9a9b9e"/>
<rect x="159.97" y="475.62" width="1.22" height="1.00" fill="#9a9b9e"/>
<rect x="162.83" y="475.62" width="1.96" height="1.00" fill="#9a9b9e"/>
<rect x="164.79" y="475.62" width="1.95" height="1.00" fill="#9a9b9e"/>
<rect x="166.73" y="475.62" width="1.49" height="1.00" fill="#9a9b9e"/>
<rect x="170.01" y="475.62" width="1.08" height="1.00" fill="#9a9b9e"/>
<rect x="171.08" y="475.62" width="1.93" height="1.00" fill="#9a9b9e"/>
<rect x="174.40" y="475.62" width="0.97" height="1.00" fill="#9a9b9e"/>
<rect x="154.32" y="473.66" width="1.19" height="1.00" fill="#9a9b9e"/>
<rect x="157.43" y="473.66" width="1.69" height="1.00" fill="#9a9b9e"/>
<rect x="159.12" y="473.66" width="1.58" height="1.00" fill="#9a9b9e"/>
<rect x="160.70" y="473.66" width="1.16" height="1.00" fill="#9a9b9e"/>
<rect x="161.86" y="473.66" width="1.45" height="1.00" fill="#9a9b9e"/>
<rect x="163.31" y="473.66" width="1.98" height="1.00" fill="#9a9b9e"/>
<rect x="165.29" y="473.66" width="1.93" height="1.00" fill="#9a9b9e"/>
<rect x="167.23" y="473.66" width="1.51" height="1.00" fill="#9a9b9e"/>
<rect x="168.74" y="473.66" width="1.53" height="1.00" fill="#9a9b9e"/>
<rect x="170.27" y="473.66" width="1.50" height="1.00" fill="#9a9b9e"/>
<rect x="171.76" y="473.66" width="1.84" height="1.00" fill="#9a9b9e"/>
<rect x="173.60" y="473.66" width="1.46" height="1.00" fill="#9a9b9e"/>
<rect x="175.07" y="473.66" width="0.22" height="1.00" fill="#9a9b9e"/>
<rect x="154.75" y="471.62" width="1.11" height="1.00" fill="#9a9b9e"/>
<rect x="157.06" y="471.62" width="1.64" height="1.00" fill="#9a9b9e"/>
<rect x="159.82" y="471.62" width="1.79" height="1.00" fill="#9a9b9e"/>
<rect x="163.28" y="471.62" width="1.67" height="1.00" fill="#9a9b9e"/>
<rect x="164.95" y="471.62" width="1.22" height="1.00" fill="#9a9b9e"/>
<rect x="166.16" y="471.62" width="1.95" height="1.00" fill="#9a9b9e"/>
<rect x="170.06" y="471.62" width="1.00" height="1.00" fill="#9a9b9e"/>
<rect x="171.05" y="471.62" width="1.03" height="1.00" fill="#9a9b9e"/>
<rect x="172.09" y="471.62" width="0.98" height="1.00" fill="#9a9b9e"/>
<rect x="173.07" y="471.62" width="1.16" height="1.00" fill="#9a9b9e"/>
<rect x="155.20" y="469.51" width="1.36" height="1.00" fill="#9a9b9e"/>
<rect x="156.56" y="469.51" width="1.83" height="1.00" fill="#9a9b9e"/>
<rect x="159.45" y="469.51" width="1.16" height="1.00" fill="#9a9b9e"/>
<rect x="161.71" y="469.51" width="0.81" height="1.00" fill="#9a9b9e"/>
<rect x="162.52" y="469.51" width="1.82" height="1.00" fill="#9a9b9e"/>
<rect x="164.34" y="469.51" width="1.50" height="1.00" fill="#9a9b9e"/>
<rect x="165.85" y="469.51" width="1.82" height="1.00" fill="#9a9b9e"/>
<rect x="169.24" y="469.51" width="1.57" height="1.00" fill="#9a9b9e"/>
<rect x="170.81" y="469.51" width="1.07" height="1.00" fill="#9a9b9e"/>
<rect x="171.89" y="469.51" width="0.95" height="1.00" fill="#9a9b9e"/>
<rect x="172.84" y="469.51" width="1.11" height="1.00" fill="#9a9b9e"/>
<rect x="173.95" y="469.51" width="1.15" height="1.00" fill="#9a9b9e"/>
<rect x="157.93" y="467.31" width="1.38" height="1.00" fill="#9a9b9e"/>
<rect x="159.31" y="467.31" width="1.83" height="1.00" fill="#9a9b9e"/>
<rect x="162.73" y="467.31" width="1.87" height="1.00" fill="#9a9b9e"/>
<rect x="165.42" y="467.31" width="1.89" height="1.00" fill="#9a9b9e"/>
<rect x="167.31" y="467.31" width="1.10" height="1.00" fill="#9a9b9e"/>
<rect x="170.07" y="467.31" width="1.04" height="1.00" fill="#9a9b9e"/>
<rect x="171.11" y="467.31" width="1.82" height="1.00" fill="#9a9b9e"/>
<rect x="172.93" y="467.31" width="1.05" height="1.00" fill="#9a9b9e"/>
<rect x="174.79" y="467.31" width="0.21" height="1.00" fill="#9a9b9e"/>
<rect x="157.84" y="465.02" width="1.99" height="1.00" fill="#9a9b9e"/>
<rect x="161.24" y="465.02" width="1.67" height="1.00" fill="#9a9b9e"/>
<rect x="162.92" y="465.02" width="1.57" height="1.00" fill="#9a9b9e"/>
<rect x="164.48" y="465.02" width="1.26" height="1.00" fill="#9a9b9e"/>
<rect x="166.63" y="465.02" width="1.55" height="1.00" fill="#9a9b9e"/>
<rect x="168.18" y="465.02" width="1.50" height="1.00" fill="#9a9b9e"/>
<rect x="169.68" y="465.02" width="1.16" height="1.00" fill="#9a9b9e"/>
<rect x="174.78" y="465.02" width="0.12" height="1.00" fill="#9a9b9e"/>
<rect x="156.65" y="462.65" width="1.92" height="1.00" fill="#9a9b9e"/>
<rect x="158.56" y="462.65" width="1.76" height="1.00" fill="#9a9b9e"/>
<rect x="161.89" y="462.65" width="1.78" height="1.00" fill="#9a9b9e"/>
<rect x="165.27" y="462.65" width="1.75" height="1.00" fill="#9a9b9e"/>
<rect x="171.96" y="462.65" width="1.08" height="1.00" fill="#9a9b9e"/>
<rect x="174.66" y="462.65" width="0.13" height="1.00" fill="#9a9b9e"/>
<rect x="160.16" y="460.18" width="1.18" height="1.00" fill="#9a9b9e"/>
<rect x="161.35" y="460.18" width="1.55" height="1.00" fill="#9a9b9e"/>
<rect x="162.90" y="460.18" width="1.88" height="1.00" fill="#9a9b9e"/>
<rect x="164.77" y="460.18" width="1.16" height="1.00" fill="#9a9b9e"/>
<rect x="165.94" y="460.18" width="0.90" height="1.00" fill="#9a9b9e"/>
<rect x="168.03" y="460.18" width="1.44" height="1.00" fill="#9a9b9e"/>
<rect x="169.46" y="460.18" width="1.50" height="1.00" fill="#9a9b9e"/>
<rect x="170.96" y="460.18" width="1.05" height="1.00" fill="#9a9b9e"/>
<rect x="172.02" y="460.18" width="1.15" height="1.00" fill="#9a9b9e"/>
<rect x="174.66" y="460.18" width="0.02" height="1.00" fill="#9a9b9e"/>
<rect x="157.71" y="457.62" width="1.74" height="1.00" fill="#9a9b9e"/>
<rect x="162.26" y="457.62" width="1.97" height="1.00" fill="#9a9b9e"/>
<rect x="164.24" y="457.62" width="1.88" height="1.00" fill="#9a9b9e"/>
<rect x="166.12" y="457.62" width="1.56" height="1.00" fill="#9a9b9e"/>
<rect x="167.68" y="457.62" width="1.39" height="1.00" fill="#9a9b9e"/>
<rect x="169.97" y="457.62" width="1.61" height="1.00" fill="#9a9b9e"/>
<rect x="171.58" y="457.62" width="0.94" height="1.00" fill="#9a9b9e"/>
<rect x="172.52" y="457.62" width="1.79" height="1.00" fill="#9a9b9e"/>
<rect x="174.31" y="457.62" width="0.26" height="1.00" fill="#9a9b9e"/>
<rect x="160.16" y="454.96" width="1.10" height="1.00" fill="#9a9b9e"/>
<rect x="162.77" y="454.96" width="0.99" height="1.00" fill="#9a9b9e"/>
<rect x="163.76" y="454.96" width="1.64" height="1.00" fill="#9a9b9e"/>
<rect x="165.40" y="454.96" width="1.16" height="1.00" fill="#9a9b9e"/>
<rect x="167.87" y="454.96" width="1.61" height="1.00" fill="#9a9b9e"/>
<rect x="169.48" y="454.96" width="1.23" height="1.00" fill="#9a9b9e"/>
<rect x="170.71" y="454.96" width="0.82" height="1.00" fill="#9a9b9e"/>
<rect x="173.22" y="454.96" width="1.23" height="1.00" fill="#9a9b9e"/>
<rect x="160.24" y="452.19" width="0.97" height="1.00" fill="#9a9b9e"/>
<rect x="161.21" y="452.19" width="1.30" height="1.00" fill="#9a9b9e"/>
<rect x="166.10" y="452.19" width="1.14" height="1.00" fill="#9a9b9e"/>
<rect x="167.24" y="452.19" width="1.10" height="1.00" fill="#9a9b9e"/>
<rect x="168.34" y="452.19" width="1.15" height="1.00" fill="#9a9b9e"/>
<rect x="169.49" y="452.19" width="1.39" height="1.00" fill="#9a9b9e"/>
<rect x="172.86" y="452.19" width="1.21" height="1.00" fill="#9a9b9e"/>
<rect x="174.07" y="452.19" width="0.26" height="1.00" fill="#9a9b9e"/>
<rect x="169.42" y="441.87" width="0.81" height="0.80" fill="#bcbdc0"/>
<rect x="159.52" y="455.52" width="1.60" height="0.80" fill="#bcbdc0"/>
<rect x="167.52" y="445.48" width="1.07" height="0.80" fill="#bcbdc0"/>
<rect x="165.29" y="448.55" width="0.80" height="0.80" fill="#bcbdc0"/>
<rect x="170.45" y="439.31" width="1.13" height="0.80" fill="#bcbdc0"/>
<rect x="160.00" y="451.90" width="1.15" height="0.80" fill="#bcbdc0"/>
<rect x="165.07" y="448.01" width="0.83" height="0.80" fill="#bcbdc0"/>
<rect x="169.08" y="450.29" width="1.49" height="0.80" fill="#bcbdc0"/>
<rect x="162.84" y="439.95" width="1.27" height="0.80" fill="#bcbdc0"/>
<rect x="162.16" y="449.44" width="1.30" height="0.80" fill="#bcbdc0"/>
<rect x="165.01" y="453.71" width="0.79" height="0.80" fill="#bcbdc0"/>
<rect x="158.55" y="454.78" width="1.48" height="0.80" fill="#bcbdc0"/>
<rect x="165.32" y="440.93" width="1.34" height="0.80" fill="#bcbdc0"/>
<rect x="161.45" y="453.59" width="0.73" height="0.80" fill="#bcbdc0"/>
<rect x="168.05" y="438.86" width="1.22" height="0.80" fill="#bcbdc0"/>
<rect x="166.09" y="454.49" width="1.17" height="0.80" fill="#bcbdc0"/>
<rect x="170.31" y="452.93" width="1.08" height="0.80" fill="#bcbdc0"/>
<rect x="165.12" y="450.67" width="0.76" height="0.80" fill="#bcbdc0"/>
<rect x="167.76" y="450.40" width="1.59" height="0.80" fill="#bcbdc0"/>
<rect x="161.78" y="450.04" width="1.39" height="0.80" fill="#bcbdc0"/>
<rect x="161.27" y="448.10" width="1.12" height="0.80" fill="#bcbdc0"/>
<rect x="168.09" y="454.18" width="1.08" height="0.80" fill="#bcbdc0"/>
<rect x="169.01" y="438.66" width="1.59" height="0.80" fill="#bcbdc0"/>
<rect x="161.97" y="453.52" width="0.81" height="0.80" fill="#bcbdc0"/>
<rect x="163.98" y="446.77" width="1.21" height="0.80" fill="#bcbdc0"/>
<rect x="169.80" y="446.39" width="1.53" height="0.80" fill="#bcbdc0"/>
<rect x="169.81" y="444.90" width="1.33" height="0.80" fill="#bcbdc0"/>
<rect x="169.89" y="441.03" width="0.96" height="0.80" fill="#bcbdc0"/>
<rect x="166.62" y="448.26" width="1.30" height="0.80" fill="#bcbdc0"/>
<rect x="172.47" y="454.08" width="0.75" height="0.80" fill="#bcbdc0"/>
<rect x="163.28" y="439.06" width="1.49" height="0.80" fill="#bcbdc0"/>
<rect x="168.10" y="450.52" width="1.05" height="0.80" fill="#bcbdc0"/>
<rect x="168.14" y="443.97" width="1.56" height="0.80" fill="#bcbdc0"/>
<rect x="167.86" y="453.11" width="0.98" height="0.80" fill="#bcbdc0"/>
<rect x="169.64" y="455.10" width="1.12" height="0.80" fill="#bcbdc0"/>
<rect x="172.03" y="441.41" width="0.81" height="0.80" fill="#bcbdc0"/>
<rect x="160.80" y="455.19" width="1.42" height="0.80" fill="#bcbdc0"/>
<rect x="170.22" y="446.85" width="1.11" height="0.80" fill="#bcbdc0"/>
<rect x="169.88" y="443.26" width="1.00" height="0.80" fill="#bcbdc0"/>
<rect x="168.40" y="443.40" width="1.29" height="0.80" fill="#bcbdc0"/>
<rect x="167.75" y="452.53" width="1.48" height="0.80" fill="#bcbdc0"/>
<rect x="159.55" y="451.20" width="0.84" height="0.80" fill="#bcbdc0"/>
<rect x="167.50" y="453.07" width="1.58" height="0.80" fill="#bcbdc0"/>
<rect x="165.88" y="442.81" width="1.04" height="0.80" fill="#bcbdc0"/>
<rect x="162.50" y="452.00" width="1.11" height="0.80" fill="#bcbdc0"/>
<circle cx="91.31" cy="533.51" r="0.55" fill="#bcbdc0"/>
<circle cx="66.08" cy="533.15" r="0.55" fill="#bcbdc0"/>
<circle cx="105.24" cy="534.48" r="0.55" fill="#bcbdc0"/>
<circle cx="96.99" cy="533.43" r="0.55" fill="#bcbdc0"/>
<circle cx="58.44" cy="534.76" r="0.55" fill="#bcbdc0"/>
<circle cx="109.57" cy="533.12" r="0.55" fill="#bcbdc0"/>
<circle cx="108.52" cy="534.55" r="0.55" fill="#bcbdc0"/>
<circle cx="82.87" cy="534.51" r="0.55" fill="#bcbdc0"/>
<circle cx="80.00" cy="533.98" r="0.55" fill="#bcbdc0"/>
<circle cx="82.40" cy="533.87" r="0.55" fill="#bcbdc0"/>
<circle cx="72.90" cy="534.53" r="0.55" fill="#bcbdc0"/>
<circle cx="93.33" cy="534.96" r="0.55" fill="#bcbdc0"/>
<circle cx="68.57" cy="532.93" r="0.55" fill="#bcbdc0"/>
<circle cx="73.73" cy="534.36" r="0.55" fill="#bcbdc0"/>
<circle cx="105.56" cy="534.09" r="0.55" fill="#bcbdc0"/>
<circle cx="50.56" cy="533.65" r="0.55" fill="#bcbdc0"/>
<circle cx="82.43" cy="533.98" r="0.55" fill="#bcbdc0"/>
<circle cx="71.31" cy="532.94" r="0.55" fill="#bcbdc0"/>
<circle cx="73.89" cy="533.95" r="0.55" fill="#bcbdc0"/>
<circle cx="65.57" cy="534.63" r="0.55" fill="#bcbdc0"/>
<circle cx="69.26" cy="533.91" r="0.55" fill="#bcbdc0"/>
<circle cx="62.11" cy="533.27" r="0.55" fill="#bcbdc0"/>
<circle cx="55.53" cy="534.57" r="0.55" fill="#bcbdc0"/>
<circle cx="67.39" cy="534.07" r="0.55" fill="#bcbdc0"/>
<circle cx="71.53" cy="534.52" r="0.55" fill="#bcbdc0"/>
<circle cx="101.42" cy="533.34" r="0.55" fill="#bcbdc0"/>
<circle cx="105.36" cy="533.89" r="0.55" fill="#bcbdc0"/>
<circle cx="101.98" cy="533.62" r="0.55" fill="#bcbdc0"/>
<circle cx="77.81" cy="532.98" r="0.55" fill="#bcbdc0"/>
<circle cx="68.95" cy="532.87" r="0.55" fill="#bcbdc0"/>
<circle cx="66.83" cy="534.14" r="0.55" fill="#bcbdc0"/>
<circle cx="55.65" cy="533.25" r="0.55" fill="#bcbdc0"/>
<circle cx="102.25" cy="534.04" r="0.55" fill="#bcbdc0"/>
<circle cx="85.20" cy="533.27" r="0.55" fill="#bcbdc0"/>
<circle cx="105.53" cy="533.42" r="0.55" fill="#bcbdc0"/>
<circle cx="55.83" cy="533.78" r="0.55" fill="#bcbdc0"/>
<circle cx="85.59" cy="534.14" r="0.55" fill="#bcbdc0"/>
<circle cx="57.85" cy="534.66" r="0.55" fill="#bcbdc0"/>
<circle cx="70.33" cy="534.99" r="0.55" fill="#bcbdc0"/>
<circle cx="72.69" cy="532.86" r="0.55" fill="#bcbdc0"/>
<circle cx="52.09" cy="533.61" r="0.55" fill="#bcbdc0"/>
<circle cx="92.33" cy="533.87" r="0.55" fill="#bcbdc0"/>
<circle cx="100.74" cy="534.77" r="0.55" fill="#bcbdc0"/>
<circle cx="101.78" cy="534.21" r="0.55" fill="#bcbdc0"/>
<circle cx="105.33" cy="534.35" r="0.55" fill="#bcbdc0"/>
<circle cx="55.40" cy="533.50" r="0.55" fill="#bcbdc0"/>
<circle cx="63.99" cy="533.00" r="0.55" fill="#bcbdc0"/>
<circle cx="105.25" cy="533.91" r="0.55" fill="#bcbdc0"/>
<circle cx="60.96" cy="534.67" r="0.55" fill="#bcbdc0"/>
<circle cx="72.25" cy="533.32" r="0.55" fill="#bcbdc0"/>
<circle cx="93.24" cy="533.18" r="0.55" fill="#bcbdc0"/>
<circle cx="106.50" cy="534.87" r="0.55" fill="#bcbdc0"/>
<circle cx="53.56" cy="534.02" r="0.55" fill="#bcbdc0"/>
<circle cx="51.67" cy="534.82" r="0.55" fill="#bcbdc0"/>
<circle cx="65.47" cy="533.93" r="0.55" fill="#bcbdc0"/>
<circle cx="94.37" cy="534.48" r="0.55" fill="#bcbdc0"/>
<circle cx="79.01" cy="533.02" r="0.55" fill="#bcbdc0"/>
<circle cx="69.06" cy="532.81" r="0.55" fill="#bcbdc0"/>
<circle cx="61.94" cy="534.45" r="0.55" fill="#bcbdc0"/>
<circle cx="85.39" cy="533.77" r="0.55" fill="#bcbdc0"/>
<circle cx="117.63" cy="522.39" r="0.55" fill="#bcbdc0"/>
<circle cx="103.58" cy="525.96" r="0.55" fill="#bcbdc0"/>
<circle cx="103.75" cy="525.87" r="0.55" fill="#bcbdc0"/>
<circle cx="107.07" cy="526.69" r="0.55" fill="#bcbdc0"/>
<circle cx="130.71" cy="521.00" r="0.55" fill="#bcbdc0"/>
<circle cx="108.39" cy="526.79" r="0.55" fill="#bcbdc0"/>
<circle cx="124.94" cy="518.80" r="0.55" fill="#bcbdc0"/>
<circle cx="126.64" cy="517.90" r="0.55" fill="#bcbdc0"/>
<circle cx="115.93" cy="522.42" r="0.55" fill="#bcbdc0"/>
<circle cx="122.45" cy="522.56" r="0.55" fill="#bcbdc0"/>
<circle cx="132.90" cy="520.63" r="0.55" fill="#bcbdc0"/>
<circle cx="104.25" cy="524.31" r="0.55" fill="#bcbdc0"/>
<circle cx="88.76" cy="531.97" r="0.55" fill="#bcbdc0"/>
<circle cx="101.13" cy="526.05" r="0.55" fill="#bcbdc0"/>
<circle cx="90.78" cy="529.47" r="0.55" fill="#bcbdc0"/>
<circle cx="101.60" cy="527.84" r="0.55" fill="#bcbdc0"/>
<circle cx="94.01" cy="528.85" r="0.55" fill="#bcbdc0"/>
<circle cx="129.47" cy="518.95" r="0.55" fill="#bcbdc0"/>
<circle cx="92.47" cy="529.17" r="0.55" fill="#bcbdc0"/>
<circle cx="97.34" cy="526.39" r="0.55" fill="#bcbdc0"/>
<circle cx="113.55" cy="522.75" r="0.55" fill="#bcbdc0"/>
<circle cx="125.21" cy="519.24" r="0.55" fill="#bcbdc0"/>
<circle cx="90.46" cy="529.85" r="0.55" fill="#bcbdc0"/>
<circle cx="109.12" cy="523.41" r="0.55" fill="#bcbdc0"/>
<circle cx="110.67" cy="525.00" r="0.55" fill="#bcbdc0"/>
<circle cx="94.90" cy="534.74" r="0.55" fill="#bcbdc0"/>
<circle cx="89.44" cy="534.42" r="0.55" fill="#bcbdc0"/>
<circle cx="78.86" cy="534.14" r="0.55" fill="#bcbdc0"/>
<circle cx="99.30" cy="533.01" r="0.55" fill="#bcbdc0"/>
<circle cx="82.28" cy="532.34" r="0.55" fill="#bcbdc0"/>
<circle cx="81.72" cy="532.87" r="0.55" fill="#bcbdc0"/>
<circle cx="85.98" cy="532.07" r="0.55" fill="#bcbdc0"/>
<circle cx="95.98" cy="534.92" r="0.55" fill="#bcbdc0"/>
<circle cx="79.46" cy="533.74" r="0.55" fill="#bcbdc0"/>
<circle cx="86.61" cy="533.28" r="0.55" fill="#bcbdc0"/>
<circle cx="88.26" cy="533.05" r="0.55" fill="#bcbdc0"/>
<circle cx="94.95" cy="534.80" r="0.55" fill="#bcbdc0"/>
<circle cx="82.87" cy="532.76" r="0.55" fill="#bcbdc0"/>
<circle cx="76.97" cy="532.93" r="0.55" fill="#bcbdc0"/>
<circle cx="82.64" cy="532.13" r="0.55" fill="#bcbdc0"/>
<circle cx="96.24" cy="533.33" r="0.55" fill="#bcbdc0"/>
<circle cx="81.53" cy="532.11" r="0.55" fill="#bcbdc0"/>
<circle cx="90.42" cy="534.40" r="0.55" fill="#bcbdc0"/>
<circle cx="97.34" cy="534.06" r="0.55" fill="#bcbdc0"/>
<circle cx="94.27" cy="532.11" r="0.55" fill="#bcbdc0"/>
<circle cx="79.29" cy="533.84" r="0.55" fill="#bcbdc0"/>
<circle cx="91.08" cy="532.17" r="0.55" fill="#bcbdc0"/>
<circle cx="83.39" cy="531.54" r="0.55" fill="#bcbdc0"/>
<circle cx="92.61" cy="533.32" r="0.55" fill="#bcbdc0"/>
<circle cx="96.19" cy="534.71" r="0.55" fill="#bcbdc0"/>
<circle cx="88.44" cy="532.72" r="0.55" fill="#bcbdc0"/>
<circle cx="82.76" cy="533.74" r="0.55" fill="#bcbdc0"/>
<circle cx="98.70" cy="531.82" r="0.55" fill="#bcbdc0"/>
<circle cx="85.83" cy="534.17" r="0.55" fill="#bcbdc0"/>
<circle cx="79.20" cy="533.83" r="0.55" fill="#bcbdc0"/>
<circle cx="81.96" cy="533.47" r="0.55" fill="#bcbdc0"/>
<circle cx="99.66" cy="531.63" r="0.55" fill="#bcbdc0"/>
<circle cx="92.85" cy="533.51" r="0.55" fill="#bcbdc0"/>
<circle cx="96.59" cy="532.75" r="0.55" fill="#bcbdc0"/>
<circle cx="98.37" cy="534.89" r="0.55" fill="#bcbdc0"/>
<circle cx="77.71" cy="532.75" r="0.55" fill="#bcbdc0"/>
<circle cx="81.87" cy="534.41" r="0.55" fill="#bcbdc0"/>
<circle cx="97.90" cy="534.23" r="0.55" fill="#bcbdc0"/>
<circle cx="96.83" cy="533.52" r="0.55" fill="#bcbdc0"/>
<circle cx="97.55" cy="532.52" r="0.55" fill="#bcbdc0"/>
<circle cx="78.58" cy="534.06" r="0.55" fill="#bcbdc0"/>
<circle cx="86.71" cy="531.59" r="0.55" fill="#bcbdc0"/>
<circle cx="95.31" cy="531.97" r="0.55" fill="#bcbdc0"/>
<circle cx="81.84" cy="531.81" r="0.55" fill="#bcbdc0"/>
<circle cx="90.86" cy="532.09" r="0.55" fill="#bcbdc0"/>
<circle cx="83.49" cy="533.44" r="0.55" fill="#bcbdc0"/>
<circle cx="98.93" cy="531.57" r="0.55" fill="#bcbdc0"/>
<circle cx="98.23" cy="534.09" r="0.55" fill="#bcbdc0"/>
<circle cx="82.27" cy="534.43" r="0.55" fill="#bcbdc0"/>
<circle cx="91.28" cy="533.12" r="0.55" fill="#bcbdc0"/>
<circle cx="179.79" cy="485.26" r="0.55" fill="#bcbdc0"/>
<circle cx="178.02" cy="476.01" r="0.55" fill="#bcbdc0"/>
<circle cx="177.52" cy="481.45" r="0.55" fill="#bcbdc0"/>
<circle cx="179.78" cy="507.50" r="0.55" fill="#bcbdc0"/>
<circle cx="170.05" cy="518.74" r="0.55" fill="#bcbdc0"/>
<circle cx="163.28" cy="526.60" r="0.55" fill="#bcbdc0"/>
<circle cx="177.32" cy="504.66" r="0.55" fill="#bcbdc0"/>
<circle cx="175.19" cy="512.80" r="0.55" fill="#bcbdc0"/>
<circle cx="183.20" cy="499.57" r="0.55" fill="#bcbdc0"/>
<circle cx="181.71" cy="471.18" r="0.55" fill="#bcbdc0"/>
<circle cx="175.79" cy="510.64" r="0.55" fill="#bcbdc0"/>
<circle cx="179.63" cy="508.58" r="0.55" fill="#bcbdc0"/>
<circle cx="178.03" cy="472.32" r="0.55" fill="#bcbdc0"/>
<circle cx="177.19" cy="493.25" r="0.55" fill="#bcbdc0"/>
<circle cx="179.68" cy="495.65" r="0.55" fill="#bcbdc0"/>
<circle cx="168.96" cy="523.95" r="0.55" fill="#bcbdc0"/>
<circle cx="179.80" cy="506.12" r="0.55" fill="#bcbdc0"/>
<circle cx="177.25" cy="495.64" r="0.55" fill="#bcbdc0"/>
<circle cx="177.82" cy="505.91" r="0.55" fill="#bcbdc0"/>
<circle cx="174.04" cy="513.53" r="0.55" fill="#bcbdc0"/>
<circle cx="180.24" cy="492.62" r="0.55" fill="#bcbdc0"/>
<circle cx="180.43" cy="470.74" r="0.55" fill="#bcbdc0"/>
<circle cx="178.08" cy="476.98" r="0.55" fill="#bcbdc0"/>
<circle cx="179.62" cy="482.85" r="0.55" fill="#bcbdc0"/>
<circle cx="173.41" cy="512.82" r="0.55" fill="#bcbdc0"/>
<circle cx="180.30" cy="495.41" r="0.55" fill="#bcbdc0"/>
<circle cx="153.58" cy="533.84" r="0.55" fill="#bcbdc0"/>
<circle cx="155.12" cy="532.73" r="0.55" fill="#bcbdc0"/>
<circle cx="161.76" cy="532.29" r="0.55" fill="#bcbdc0"/>
<circle cx="176.47" cy="509.74" r="0.55" fill="#bcbdc0"/>
<circle cx="163.27" cy="528.75" r="0.55" fill="#bcbdc0"/>
<circle cx="169.75" cy="521.61" r="0.55" fill="#bcbdc0"/>
<circle cx="178.32" cy="472.29" r="0.55" fill="#bcbdc0"/>
<circle cx="177.96" cy="470.87" r="0.55" fill="#bcbdc0"/>
<circle cx="178.52" cy="485.15" r="0.55" fill="#bcbdc0"/>
<circle cx="177.38" cy="492.24" r="0.55" fill="#bcbdc0"/>
<circle cx="184.52" cy="480.69" r="0.55" fill="#bcbdc0"/>
<circle cx="162.84" cy="528.95" r="0.55" fill="#bcbdc0"/>
<circle cx="164.85" cy="527.69" r="0.55" fill="#bcbdc0"/>
<circle cx="161.22" cy="529.64" r="0.55" fill="#bcbdc0"/>
<circle cx="183.64" cy="498.16" r="0.55" fill="#bcbdc0"/>
<circle cx="160.71" cy="528.60" r="0.55" fill="#bcbdc0"/>
<circle cx="177.36" cy="506.95" r="0.55" fill="#bcbdc0"/>
<circle cx="174.94" cy="517.39" r="0.55" fill="#bcbdc0"/>
<circle cx="181.73" cy="488.38" r="0.55" fill="#bcbdc0"/>
<circle cx="178.40" cy="484.18" r="0.55" fill="#bcbdc0"/>
<circle cx="179.92" cy="494.75" r="0.55" fill="#bcbdc0"/>
<circle cx="162.70" cy="527.08" r="0.55" fill="#bcbdc0"/>
<circle cx="182.86" cy="489.44" r="0.55" fill="#bcbdc0"/>
<circle cx="177.82" cy="471.98" r="0.55" fill="#bcbdc0"/>
<circle cx="178.51" cy="491.35" r="0.55" fill="#bcbdc0"/>
<circle cx="159.65" cy="532.05" r="0.55" fill="#bcbdc0"/>
<circle cx="178.69" cy="495.37" r="0.55" fill="#bcbdc0"/>
<circle cx="158.35" cy="530.93" r="0.55" fill="#bcbdc0"/>
<circle cx="178.16" cy="490.73" r="0.55" fill="#bcbdc0"/>
<circle cx="164.87" cy="526.22" r="0.55" fill="#bcbdc0"/>
<circle cx="177.63" cy="483.83" r="0.55" fill="#bcbdc0"/>
<circle cx="177.24" cy="505.27" r="0.55" fill="#bcbdc0"/>
<circle cx="178.17" cy="508.78" r="0.55" fill="#bcbdc0"/>
<circle cx="180.83" cy="503.09" r="0.55" fill="#bcbdc0"/>
<circle cx="168.43" cy="523.40" r="0.55" fill="#bcbdc0"/>
<circle cx="181.31" cy="503.34" r="0.55" fill="#bcbdc0"/>
<circle cx="157.05" cy="533.32" r="0.55" fill="#bcbdc0"/>
<circle cx="183.70" cy="496.67" r="0.55" fill="#bcbdc0"/>
<circle cx="174.30" cy="512.77" r="0.55" fill="#bcbdc0"/>
<circle cx="176.93" cy="509.09" r="0.55" fill="#bcbdc0"/>
<circle cx="177.76" cy="487.71" r="0.55" fill="#bcbdc0"/>
<circle cx="165.12" cy="524.80" r="0.55" fill="#bcbdc0"/>
<circle cx="162.30" cy="529.01" r="0.55" fill="#bcbdc0"/>
<circle cx="174.55" cy="510.36" r="0.55" fill="#bcbdc0"/>
<circle cx="175.37" cy="510.46" r="0.55" fill="#bcbdc0"/>
<circle cx="180.16" cy="476.61" r="0.55" fill="#bcbdc0"/>
<circle cx="178.52" cy="496.27" r="0.55" fill="#bcbdc0"/>
<circle cx="177.49" cy="495.44" r="0.55" fill="#bcbdc0"/>
<circle cx="156.97" cy="533.55" r="0.55" fill="#bcbdc0"/>
<circle cx="182.03" cy="487.88" r="0.55" fill="#bcbdc0"/>
<circle cx="179.64" cy="509.77" r="0.55" fill="#bcbdc0"/>
<circle cx="175.91" cy="514.33" r="0.55" fill="#bcbdc0"/>
<circle cx="178.79" cy="488.44" r="0.55" fill="#bcbdc0"/>
<circle cx="179.39" cy="503.67" r="0.55" fill="#bcbdc0"/>
<circle cx="176.09" cy="508.11" r="0.55" fill="#bcbdc0"/>
<circle cx="169.83" cy="517.73" r="0.55" fill="#bcbdc0"/>
<circle cx="155.70" cy="533.34" r="0.55" fill="#bcbdc0"/>
<circle cx="178.84" cy="504.36" r="0.55" fill="#bcbdc0"/>
<circle cx="169.63" cy="521.39" r="0.55" fill="#bcbdc0"/>
<circle cx="178.22" cy="484.84" r="0.55" fill="#bcbdc0"/>
<circle cx="169.87" cy="522.58" r="0.55" fill="#bcbdc0"/>
<circle cx="182.76" cy="508.92" r="0.55" fill="#bcbdc0"/>
<circle cx="180.93" cy="485.53" r="0.55" fill="#bcbdc0"/>
<circle cx="169.43" cy="527.04" r="0.55" fill="#bcbdc0"/>
<circle cx="159.59" cy="531.18" r="0.55" fill="#bcbdc0"/>
<circle cx="161.92" cy="527.34" r="0.55" fill="#bcbdc0"/>
<circle cx="179.70" cy="489.19" r="0.55" fill="#bcbdc0"/>
<circle cx="175.53" cy="509.68" r="0.55" fill="#bcbdc0"/>
<circle cx="179.36" cy="497.98" r="0.55" fill="#bcbdc0"/>
<circle cx="181.59" cy="497.52" r="0.55" fill="#bcbdc0"/>
<circle cx="181.65" cy="499.71" r="0.55" fill="#bcbdc0"/>
<circle cx="178.22" cy="499.00" r="0.55" fill="#bcbdc0"/>
<circle cx="179.10" cy="470.66" r="0.55" fill="#bcbdc0"/>
<circle cx="177.96" cy="496.21" r="0.55" fill="#bcbdc0"/>
<circle cx="181.37" cy="502.06" r="0.55" fill="#bcbdc0"/>
<circle cx="182.91" cy="479.87" r="0.55" fill="#bcbdc0"/>
<circle cx="179.85" cy="482.05" r="0.55" fill="#bcbdc0"/>
<circle cx="170.06" cy="519.11" r="0.55" fill="#bcbdc0"/>
<circle cx="165.50" cy="527.55" r="0.55" fill="#bcbdc0"/>
<circle cx="172.06" cy="517.77" r="0.55" fill="#bcbdc0"/>
<circle cx="178.99" cy="475.90" r="0.55" fill="#bcbdc0"/>
<circle cx="179.32" cy="474.81" r="0.55" fill="#bcbdc0"/>
<circle cx="179.11" cy="489.88" r="0.55" fill="#bcbdc0"/>
<circle cx="181.17" cy="488.87" r="0.55" fill="#bcbdc0"/>
<circle cx="180.51" cy="491.97" r="0.55" fill="#bcbdc0"/>
<circle cx="157.26" cy="532.16" r="0.55" fill="#bcbdc0"/>
<circle cx="180.28" cy="510.39" r="0.55" fill="#bcbdc0"/>
<circle cx="177.89" cy="483.30" r="0.55" fill="#bcbdc0"/>
<circle cx="162.66" cy="527.16" r="0.55" fill="#bcbdc0"/>
<circle cx="177.59" cy="506.16" r="0.55" fill="#bcbdc0"/>
<circle cx="181.09" cy="476.82" r="0.55" fill="#bcbdc0"/>
<circle cx="172.49" cy="516.26" r="0.55" fill="#bcbdc0"/>
<circle cx="172.18" cy="514.27" r="0.55" fill="#bcbdc0"/>
<circle cx="171.13" cy="515.48" r="0.55" fill="#bcbdc0"/>
<circle cx="152.15" cy="478.22" r="0.55" fill="#bcbdc0"/>
<circle cx="156.74" cy="459.14" r="0.55" fill="#bcbdc0"/>
<circle cx="157.31" cy="455.65" r="0.55" fill="#bcbdc0"/>
<circle cx="151.38" cy="487.30" r="0.55" fill="#bcbdc0"/>
<circle cx="151.14" cy="478.82" r="0.55" fill="#bcbdc0"/>
<circle cx="151.50" cy="476.60" r="0.55" fill="#bcbdc0"/>
<circle cx="156.45" cy="461.04" r="0.55" fill="#bcbdc0"/>
<circle cx="155.15" cy="461.10" r="0.55" fill="#bcbdc0"/>
<circle cx="153.41" cy="476.77" r="0.55" fill="#bcbdc0"/>
<circle cx="157.67" cy="458.20" r="0.55" fill="#bcbdc0"/>
<circle cx="148.28" cy="494.81" r="0.55" fill="#bcbdc0"/>
<circle cx="154.45" cy="473.09" r="0.55" fill="#bcbdc0"/>
<circle cx="149.93" cy="488.61" r="0.55" fill="#bcbdc0"/>
<circle cx="151.39" cy="479.31" r="0.55" fill="#bcbdc0"/>
<circle cx="157.00" cy="461.04" r="0.55" fill="#bcbdc0"/>
<circle cx="156.87" cy="456.38" r="0.55" fill="#bcbdc0"/>
<circle cx="150.48" cy="481.41" r="0.55" fill="#bcbdc0"/>
<circle cx="154.99" cy="457.65" r="0.55" fill="#bcbdc0"/>
<circle cx="156.46" cy="463.05" r="0.55" fill="#bcbdc0"/>
<circle cx="156.21" cy="464.24" r="0.55" fill="#bcbdc0"/>
<circle cx="154.82" cy="471.63" r="0.55" fill="#bcbdc0"/>
<circle cx="157.43" cy="457.29" r="0.55" fill="#bcbdc0"/>
<circle cx="156.10" cy="465.01" r="0.55" fill="#bcbdc0"/>
<circle cx="152.29" cy="479.65" r="0.55" fill="#bcbdc0"/>
<circle cx="153.82" cy="462.29" r="0.55" fill="#bcbdc0"/>
<circle cx="154.21" cy="474.13" r="0.55" fill="#bcbdc0"/>
<circle cx="154.62" cy="472.57" r="0.55" fill="#bcbdc0"/>
<circle cx="146.55" cy="496.14" r="0.55" fill="#bcbdc0"/>
<circle cx="156.78" cy="457.84" r="0.55" fill="#bcbdc0"/>
<circle cx="151.16" cy="479.56" r="0.55" fill="#bcbdc0"/>
<circle cx="152.80" cy="472.37" r="0.55" fill="#bcbdc0"/>
<circle cx="156.76" cy="455.94" r="0.55" fill="#bcbdc0"/>
<circle cx="149.89" cy="491.46" r="0.55" fill="#bcbdc0"/>
<circle cx="154.53" cy="470.92" r="0.55" fill="#bcbdc0"/>
<circle cx="157.19" cy="455.32" r="0.55" fill="#bcbdc0"/>
<circle cx="154.13" cy="470.24" r="0.55" fill="#bcbdc0"/>
<circle cx="154.46" cy="469.07" r="0.55" fill="#bcbdc0"/>
<circle cx="151.61" cy="482.35" r="0.55" fill="#bcbdc0"/>
<circle cx="146.92" cy="495.37" r="0.55" fill="#bcbdc0"/>
<circle cx="151.90" cy="478.26" r="0.55" fill="#bcbdc0"/>
<circle cx="172.65" cy="457.21" r="0.55" fill="#bcbdc0"/>
<circle cx="172.13" cy="456.45" r="0.55" fill="#bcbdc0"/>
<circle cx="171.35" cy="446.61" r="0.55" fill="#bcbdc0"/>
<circle cx="177.66" cy="451.80" r="0.55" fill="#bcbdc0"/>
<circle cx="169.56" cy="450.71" r="0.55" fill="#bcbdc0"/>
<circle cx="174.54" cy="464.90" r="0.55" fill="#bcbdc0"/>
<circle cx="174.66" cy="457.21" r="0.55" fill="#bcbdc0"/>
<circle cx="177.54" cy="451.76" r="0.55" fill="#bcbdc0"/>
<circle cx="172.42" cy="451.20" r="0.55" fill="#bcbdc0"/>
<circle cx="172.86" cy="461.10" r="0.55" fill="#bcbdc0"/>
<circle cx="174.97" cy="453.13" r="0.55" fill="#bcbdc0"/>
<circle cx="173.71" cy="450.91" r="0.55" fill="#bcbdc0"/>
<circle cx="178.30" cy="462.21" r="0.55" fill="#bcbdc0"/>
<circle cx="179.31" cy="469.95" r="0.55" fill="#bcbdc0"/>
<circle cx="147.39" cy="499.94" r="0.6" fill="#bcbdc0"/>
<circle cx="123.81" cy="524.05" r="0.6" fill="#bcbdc0"/>
<circle cx="108.27" cy="530.00" r="0.6" fill="#bcbdc0"/>
<circle cx="146.47" cy="505.42" r="0.6" fill="#bcbdc0"/>
<circle cx="89.73" cy="532.70" r="0.6" fill="#bcbdc0"/>
<circle cx="121.78" cy="524.16" r="0.6" fill="#bcbdc0"/>
<circle cx="136.74" cy="514.41" r="0.6" fill="#bcbdc0"/>
<circle cx="131.00" cy="520.76" r="0.6" fill="#bcbdc0"/>
<circle cx="145.25" cy="504.28" r="0.6" fill="#bcbdc0"/>
<circle cx="120.49" cy="526.50" r="0.6" fill="#bcbdc0"/>
<circle cx="138.05" cy="514.53" r="0.6" fill="#bcbdc0"/>
<circle cx="148.40" cy="497.54" r="0.6" fill="#bcbdc0"/>
<circle cx="105.60" cy="530.26" r="0.6" fill="#bcbdc0"/>
<circle cx="128.41" cy="522.33" r="0.6" fill="#bcbdc0"/>
<circle cx="111.42" cy="528.72" r="0.6" fill="#bcbdc0"/>
<circle cx="89.07" cy="532.46" r="0.6" fill="#bcbdc0"/>
<circle cx="127.56" cy="521.73" r="0.6" fill="#bcbdc0"/>
<circle cx="142.49" cy="507.69" r="0.6" fill="#bcbdc0"/>
<circle cx="112.32" cy="528.02" r="0.6" fill="#bcbdc0"/>
<circle cx="92.67" cy="531.63" r="0.6" fill="#bcbdc0"/>
<circle cx="126.55" cy="523.28" r="0.6" fill="#bcbdc0"/>
<circle cx="137.61" cy="514.48" r="0.6" fill="#bcbdc0"/>
<circle cx="145.99" cy="506.23" r="0.6" fill="#bcbdc0"/>
<circle cx="102.90" cy="528.64" r="0.6" fill="#bcbdc0"/>
<circle cx="137.92" cy="512.38" r="0.6" fill="#bcbdc0"/>
<circle cx="147.57" cy="498.97" r="0.6" fill="#bcbdc0"/>
<circle cx="113.53" cy="528.99" r="0.6" fill="#bcbdc0"/>
<circle cx="135.51" cy="516.61" r="0.6" fill="#bcbdc0"/>
<circle cx="126.78" cy="522.97" r="0.6" fill="#bcbdc0"/>
<circle cx="135.77" cy="516.19" r="0.6" fill="#bcbdc0"/>
<circle cx="118.53" cy="526.24" r="0.6" fill="#bcbdc0"/>
<circle cx="126.41" cy="523.56" r="0.6" fill="#bcbdc0"/>
<circle cx="118.86" cy="527.05" r="0.6" fill="#bcbdc0"/>
<circle cx="114.34" cy="528.28" r="0.6" fill="#bcbdc0"/>
<circle cx="107.08" cy="529.72" r="0.6" fill="#bcbdc0"/>
<circle cx="113.01" cy="528.38" r="0.6" fill="#bcbdc0"/>
<circle cx="127.73" cy="522.63" r="0.6" fill="#bcbdc0"/>
<circle cx="125.47" cy="524.30" r="0.6" fill="#bcbdc0"/>
<circle cx="104.66" cy="529.64" r="0.6" fill="#bcbdc0"/>
<circle cx="135.33" cy="515.76" r="0.6" fill="#bcbdc0"/>
<circle cx="105.63" cy="530.53" r="0.6" fill="#bcbdc0"/>
<circle cx="150.34" cy="497.17" r="0.6" fill="#bcbdc0"/>
<circle cx="136.19" cy="516.23" r="0.6" fill="#bcbdc0"/>
<circle cx="124.60" cy="523.64" r="0.6" fill="#bcbdc0"/>
<circle cx="104.82" cy="529.46" r="0.6" fill="#bcbdc0"/>
<circle cx="135.00" cy="516.95" r="0.6" fill="#bcbdc0"/>
<circle cx="98.47" cy="529.61" r="0.6" fill="#bcbdc0"/>
<circle cx="115.77" cy="528.41" r="0.6" fill="#bcbdc0"/>
<circle cx="120.93" cy="525.69" r="0.6" fill="#bcbdc0"/>
<circle cx="136.72" cy="513.85" r="0.6" fill="#bcbdc0"/>
<circle cx="123.11" cy="523.89" r="0.6" fill="#bcbdc0"/>
<circle cx="131.58" cy="520.00" r="0.6" fill="#bcbdc0"/>
<circle cx="145.93" cy="505.45" r="0.6" fill="#bcbdc0"/>
<circle cx="147.41" cy="497.26" r="0.6" fill="#bcbdc0"/>
<circle cx="108.45" cy="529.70" r="0.6" fill="#bcbdc0"/>
<circle cx="142.69" cy="509.63" r="0.6" fill="#bcbdc0"/>
<circle cx="124.64" cy="523.52" r="0.6" fill="#bcbdc0"/>
<circle cx="142.23" cy="510.13" r="0.6" fill="#bcbdc0"/>
<circle cx="142.36" cy="510.07" r="0.6" fill="#bcbdc0"/>
<circle cx="112.77" cy="529.26" r="0.6" fill="#bcbdc0"/>
<circle cx="147.52" cy="500.74" r="0.6" fill="#bcbdc0"/>
<circle cx="148.57" cy="500.18" r="0.6" fill="#bcbdc0"/>
<circle cx="118.23" cy="527.73" r="0.6" fill="#bcbdc0"/>
<circle cx="96.37" cy="531.06" r="0.6" fill="#bcbdc0"/>
<circle cx="145.61" cy="506.08" r="0.6" fill="#bcbdc0"/>
<circle cx="133.99" cy="517.76" r="0.6" fill="#bcbdc0"/>
<circle cx="126.35" cy="521.90" r="0.6" fill="#bcbdc0"/>
<circle cx="117.77" cy="526.51" r="0.6" fill="#bcbdc0"/>
<circle cx="144.02" cy="506.30" r="0.6" fill="#bcbdc0"/>
<circle cx="132.40" cy="519.46" r="0.6" fill="#bcbdc0"/>
<circle cx="111.41" cy="527.64" r="0.6" fill="#bcbdc0"/>
<circle cx="125.66" cy="523.60" r="0.6" fill="#bcbdc0"/>
<circle cx="147.87" cy="499.67" r="0.6" fill="#bcbdc0"/>
<circle cx="103.62" cy="529.75" r="0.6" fill="#bcbdc0"/>
<circle cx="119.76" cy="525.99" r="0.6" fill="#bcbdc0"/>
<circle cx="107.85" cy="528.01" r="0.6" fill="#bcbdc0"/>
<circle cx="148.18" cy="500.01" r="0.6" fill="#bcbdc0"/>
<circle cx="120.96" cy="524.98" r="0.6" fill="#bcbdc0"/>
<circle cx="89.67" cy="532.83" r="0.6" fill="#bcbdc0"/>
<circle cx="120.76" cy="526.17" r="0.6" fill="#bcbdc0"/>
<circle cx="101.96" cy="529.49" r="0.6" fill="#bcbdc0"/>
<circle cx="139.80" cy="511.73" r="0.6" fill="#bcbdc0"/>
<circle cx="92.86" cy="532.11" r="0.6" fill="#bcbdc0"/>
<circle cx="137.91" cy="514.30" r="0.6" fill="#bcbdc0"/>
<circle cx="107.66" cy="529.53" r="0.6" fill="#bcbdc0"/>
<circle cx="97.33" cy="531.34" r="0.6" fill="#bcbdc0"/>
<circle cx="122.88" cy="525.20" r="0.6" fill="#bcbdc0"/>
<circle cx="149.39" cy="497.91" r="0.6" fill="#bcbdc0"/>
<circle cx="130.31" cy="520.31" r="0.6" fill="#bcbdc0"/>
<circle cx="143.70" cy="507.47" r="0.6" fill="#bcbdc0"/>
<circle cx="130.93" cy="520.91" r="0.6" fill="#bcbdc0"/>
<circle cx="114.29" cy="528.49" r="0.6" fill="#bcbdc0"/>
<circle cx="89.43" cy="532.49" r="0.6" fill="#bcbdc0"/>
<circle cx="145.83" cy="503.95" r="0.6" fill="#bcbdc0"/>
<circle cx="147.07" cy="498.42" r="0.6" fill="#bcbdc0"/>
<circle cx="107.55" cy="529.23" r="0.6" fill="#bcbdc0"/>
<circle cx="114.74" cy="528.51" r="0.6" fill="#bcbdc0"/>
<circle cx="136.57" cy="514.87" r="0.6" fill="#bcbdc0"/>
<circle cx="138.27" cy="513.05" r="0.6" fill="#bcbdc0"/>
<circle cx="125.74" cy="524.30" r="0.6" fill="#bcbdc0"/>
<circle cx="100.64" cy="530.01" r="0.6" fill="#bcbdc0"/>
<circle cx="142.38" cy="508.38" r="0.6" fill="#bcbdc0"/>
<circle cx="114.74" cy="528.85" r="0.6" fill="#bcbdc0"/>
<circle cx="108.60" cy="528.96" r="0.6" fill="#bcbdc0"/>
<circle cx="107.99" cy="529.58" r="0.6" fill="#bcbdc0"/>
<circle cx="118.78" cy="526.23" r="0.6" fill="#bcbdc0"/>
<circle cx="139.27" cy="512.10" r="0.6" fill="#bcbdc0"/>
<circle cx="142.78" cy="506.84" r="0.6" fill="#bcbdc0"/>
<circle cx="146.59" cy="500.01" r="0.6" fill="#bcbdc0"/>
<circle cx="141.01" cy="511.24" r="0.6" fill="#bcbdc0"/>
<circle cx="148.29" cy="498.02" r="0.6" fill="#bcbdc0"/>
<circle cx="118.48" cy="526.88" r="0.6" fill="#bcbdc0"/>
<circle cx="133.66" cy="516.98" r="0.6" fill="#bcbdc0"/>
<circle cx="141.97" cy="510.75" r="0.6" fill="#bcbdc0"/>
<circle cx="119.91" cy="525.68" r="0.6" fill="#bcbdc0"/>
<circle cx="143.59" cy="505.04" r="0.6" fill="#bcbdc0"/>
<circle cx="141.40" cy="511.15" r="0.6" fill="#bcbdc0"/>
<circle cx="91.59" cy="531.13" r="0.6" fill="#bcbdc0"/>
<circle cx="91.41" cy="531.66" r="0.6" fill="#bcbdc0"/>
<circle cx="131.24" cy="519.93" r="0.6" fill="#bcbdc0"/>
<circle cx="91.75" cy="532.55" r="0.6" fill="#bcbdc0"/>
<circle cx="136.08" cy="516.38" r="0.6" fill="#bcbdc0"/>
<circle cx="90.55" cy="530.69" r="0.6" fill="#bcbdc0"/>
<circle cx="137.06" cy="515.46" r="0.6" fill="#bcbdc0"/>
<circle cx="139.39" cy="511.81" r="0.6" fill="#bcbdc0"/>
<circle cx="109.63" cy="529.27" r="0.6" fill="#bcbdc0"/>
<circle cx="143.99" cy="506.20" r="0.6" fill="#bcbdc0"/>
<circle cx="133.51" cy="515.52" r="0.6" fill="#bcbdc0"/>
<circle cx="136.04" cy="516.45" r="0.6" fill="#bcbdc0"/>
<circle cx="103.46" cy="530.16" r="0.6" fill="#bcbdc0"/>
<circle cx="114.63" cy="527.24" r="0.6" fill="#bcbdc0"/>
<circle cx="131.67" cy="519.29" r="0.6" fill="#bcbdc0"/>
<circle cx="128.82" cy="520.90" r="0.6" fill="#bcbdc0"/>
<circle cx="133.09" cy="517.43" r="0.6" fill="#bcbdc0"/>
<circle cx="131.86" cy="520.77" r="0.6" fill="#bcbdc0"/>
<circle cx="140.39" cy="511.50" r="0.6" fill="#bcbdc0"/>
<circle cx="106.98" cy="530.07" r="0.6" fill="#bcbdc0"/>
<circle cx="121.35" cy="525.73" r="0.6" fill="#bcbdc0"/>
<circle cx="141.39" cy="508.50" r="0.6" fill="#bcbdc0"/>
<circle cx="118.97" cy="526.71" r="0.6" fill="#bcbdc0"/>
<circle cx="180.75" cy="452.00" r="1.5" fill="#8094d6" fill-opacity="0.85"/>
<circle cx="189.70" cy="452.00" r="1.5" fill="#8094d6" fill-opacity="0.85"/>
<circle cx="177.80" cy="455.25" r="1.5" fill="#8094d6" fill-opacity="0.85"/>
<circle cx="182.50" cy="461.00" r="1.5" fill="#8094d6" fill-opacity="0.85"/>
<circle cx="183.75" cy="462.75" r="1.5" fill="#8094d6" fill-opacity="0.85"/>
<circle cx="178.00" cy="464.00" r="1.5" fill="#8094d6" fill-opacity="0.85"/>
<circle cx="197.00" cy="467.00" r="1.5" fill="#8094d6" fill-opacity="0.85"/>
<circle cx="188.75" cy="470.25" r="1.5" fill="#8094d6" fill-opacity="0.85"/>
<circle cx="178.00" cy="472.00" r="1.5" fill="#8094d6" fill-opacity="0.85"/>
<circle cx="182.00" cy="475.25" r="1.5" fill="#8094d6" fill-opacity="0.85"/>
<circle cx="178.75" cy="477.00" r="1.5" fill="#8094d6" fill-opacity="0.85"/>
<circle cx="181.25" cy="478.50" r="1.5" fill="#8094d6" fill-opacity="0.85"/>
<circle cx="205.50" cy="483.25" r="1.5" fill="#8094d6" fill-opacity="0.85"/>
<circle cx="188.75" cy="493.50" r="1.5" fill="#8094d6" fill-opacity="0.85"/>
<circle cx="185.00" cy="487.75" r="1.5" fill="#8094d6" fill-opacity="0.85"/>
<circle cx="179.00" cy="480.50" r="1.5" fill="#8094d6" fill-opacity="0.85"/>
<circle cx="181.00" cy="481.50" r="1.5" fill="#8094d6" fill-opacity="0.85"/>
<circle cx="183.00" cy="480.00" r="1.5" fill="#8094d6" fill-opacity="0.85"/>
<circle cx="179.50" cy="483.00" r="1.5" fill="#8094d6" fill-opacity="0.85"/>
<circle cx="182.00" cy="484.00" r="1.5" fill="#8094d6" fill-opacity="0.85"/>
<circle cx="180.50" cy="485.50" r="1.5" fill="#8094d6" fill-opacity="0.85"/>
<circle cx="183.50" cy="486.00" r="1.5" fill="#8094d6" fill-opacity="0.85"/>
<circle cx="178.50" cy="487.00" r="1.5" fill="#8094d6" fill-opacity="0.85"/>
<circle cx="181.50" cy="488.00" r="1.5" fill="#8094d6" fill-opacity="0.85"/>
<circle cx="179.00" cy="490.00" r="1.5" fill="#8094d6" fill-opacity="0.85"/>
<circle cx="182.50" cy="490.50" r="1.5" fill="#8094d6" fill-opacity="0.85"/>
<circle cx="184.50" cy="483.00" r="1.5" fill="#8094d6" fill-opacity="0.85"/>
<circle cx="185.50" cy="491.50" r="1.5" fill="#8094d6" fill-opacity="0.85"/>
<circle cx="180.00" cy="492.50" r="1.5" fill="#8094d6" fill-opacity="0.85"/>
<circle cx="177.50" cy="490.50" r="1.5" fill="#8094d6" fill-opacity="0.85"/>
<circle cx="183.50" cy="493.00" r="1.5" fill="#8094d6" fill-opacity="0.85"/>
<line x1="186.75" y1="481.00" x2="195.00" y2="475.30" stroke="#f2b8b3" stroke-width="0.6"/>
<line x1="190.00" y1="491.50" x2="198.70" y2="495.30" stroke="#f2b8b3" stroke-width="0.6"/>
<circle cx="186.75" cy="481.00" r="1.9" fill="#e0696a"/>
<circle cx="190.00" cy="491.50" r="1.9" fill="#e0696a"/>
<text x="195.80" y="476.70" font-size="7.5" font-style="italic" fill="#231f20" stroke="#231f20" stroke-width="0.2">RAPTOR</text>
<text x="200.00" y="498.70" font-size="7.5" font-style="italic" fill="#231f20" stroke="#231f20" stroke-width="0.2">MTOR</text>
</svg>
</body></html>
